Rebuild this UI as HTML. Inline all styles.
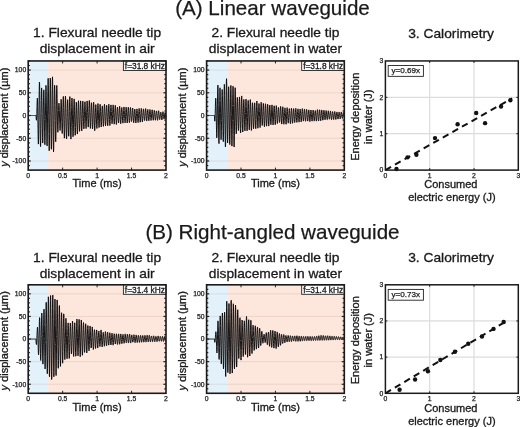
<!DOCTYPE html>
<html><head><meta charset="utf-8"><style>
html,body{margin:0;padding:0;background:#fff;}
svg{display:block;}
text{font-family:"Liberation Sans",Arial,sans-serif;fill:#1a1a1a;}
.tt{font-size:20.6px;stroke:#1a1a1a;stroke-width:0.25px;}
.st{font-size:13px;stroke:#1a1a1a;stroke-width:0.3px;}
.al{font-size:11px;stroke:#1a1a1a;stroke-width:0.32px;}
.tk{font-size:6.8px;stroke:#1a1a1a;stroke-width:0.25px;}
.fb{font-size:8.35px;stroke:#1a1a1a;stroke-width:0.3px;}
.fb2{font-size:8.1px;stroke:#1a1a1a;stroke-width:0.25px;}
</style></head><body>
<svg width="520" height="427" viewBox="0 0 520 427">
<rect width="520" height="427" fill="#fff"/>
<text x="272.5" y="14.6" class="tt" text-anchor="middle">(A) Linear waveguide</text>
<text transform="translate(97.1,37) scale(1.0615,1)" class="st" text-anchor="middle">1. Flexural needle tip</text>
<text transform="translate(97.1,53.3) scale(1.0615,1)" class="st" text-anchor="middle">displacement in air</text>
<text transform="translate(275.45,37) scale(1.0615,1)" class="st" text-anchor="middle">2. Flexural needle tip</text>
<text transform="translate(275.45,53.3) scale(1.0615,1)" class="st" text-anchor="middle">displacement in water</text>
<text transform="translate(451.05,38.1) scale(1.0615,1)" class="st" text-anchor="middle">3. Calorimetry</text>
<rect x="28.2" y="60.95" width="19.98" height="109.15" fill="#e2f1fa"/>
<rect x="48.18" y="60.95" width="117.82" height="109.15" fill="#fde6dc"/>
<line x1="28.2" y1="70.05" x2="166" y2="70.05" stroke="#6a5050" stroke-opacity="0.11" stroke-width="1"/>
<line x1="28.2" y1="92.79" x2="166" y2="92.79" stroke="#6a5050" stroke-opacity="0.11" stroke-width="1"/>
<line x1="28.2" y1="138.26" x2="166" y2="138.26" stroke="#6a5050" stroke-opacity="0.11" stroke-width="1"/>
<line x1="28.2" y1="161" x2="166" y2="161" stroke="#6a5050" stroke-opacity="0.11" stroke-width="1"/>
<polyline points="28.20,115.53 28.37,115.53 28.54,115.53 28.72,115.53 28.89,115.53 29.06,115.53 29.23,115.53 29.41,115.53 29.58,115.53 29.75,115.53 29.92,115.53 30.09,115.53 30.27,115.53 30.44,115.53 30.61,115.53 30.78,115.53 30.96,115.53 31.13,115.53 31.30,115.53 31.47,115.53 31.64,115.53 31.82,115.53 31.99,115.53 32.16,115.53 32.33,115.53 32.51,115.53 32.68,115.53 32.85,115.53 33.02,115.53 33.20,115.53 33.37,115.53 33.54,115.53 33.71,115.53 33.88,115.53 34.06,115.53 34.23,115.53 34.40,115.53 34.57,115.53 34.75,115.53 34.92,115.53 35.09,115.53 35.26,115.53 35.43,115.53 35.61,115.53 35.78,115.53 35.95,115.53 36.12,117.14 36.30,119.46 36.47,120.26 36.64,118.34 36.81,113.70 36.98,107.17 37.16,101.06 37.33,98.20 37.50,99.86 37.67,106.52 37.85,117.20 38.02,129.58 38.19,139.64 38.36,144.08 38.53,141.93 38.71,133.17 38.88,119.50 39.05,104.08 39.22,90.52 39.40,82.17 39.57,82.99 39.74,91.36 39.91,105.25 40.09,121.42 40.26,136.03 40.43,145.07 40.60,146.58 40.77,140.48 40.95,128.39 41.12,113.54 41.29,100.39 41.46,91.15 41.64,87.90 41.81,91.37 41.98,100.61 42.15,113.28 42.32,126.81 42.50,137.67 42.67,143.06 42.84,141.74 43.01,134.12 43.19,122.14 43.36,108.98 43.53,97.59 43.70,90.61 43.87,89.83 44.05,95.45 44.22,106.11 44.39,119.42 44.56,132.52 44.74,141.76 44.91,144.72 45.08,140.59 45.25,130.30 45.42,116.30 45.60,102.15 45.77,90.99 45.94,85.38 46.11,87.11 46.29,95.93 46.46,109.80 46.63,125.08 46.80,138.17 46.98,145.83 47.15,145.87 47.32,137.99 47.49,123.84 47.66,106.97 47.84,91.60 48.01,81.15 48.18,78.31 48.35,84.26 48.53,97.89 48.70,115.41 48.87,133.25 49.04,146.01 49.21,150.79 49.39,146.56 49.56,134.44 49.73,117.46 49.90,99.50 50.08,85.18 50.25,78.04 50.42,79.78 50.59,89.79 50.76,105.65 50.94,123.35 51.11,138.68 51.28,148.12 51.45,149.28 51.63,141.85 51.80,127.63 51.97,109.91 52.14,92.68 52.32,80.68 52.49,76.85 52.66,82.17 52.83,95.41 53.00,113.38 53.18,131.65 53.35,145.65 53.52,151.99 53.69,149.10 53.87,137.64 54.04,120.39 54.21,104.39 54.38,92.18 54.55,85.23 54.73,85.74 54.90,93.24 55.07,105.65 55.24,120.22 55.42,133.12 55.59,140.84 55.76,141.76 55.93,135.96 56.10,125.15 56.28,112.01 56.45,98.11 56.62,88.60 56.79,85.43 56.97,89.18 57.14,98.51 57.31,110.21 57.48,121.15 57.65,129.01 57.83,132.28 58.00,130.74 58.17,125.40 58.34,118.10 58.52,110.79 58.69,105.35 58.86,103.11 59.03,103.81 59.20,105.94 59.38,110.68 59.55,117.02 59.72,123.49 59.89,128.44 60.07,130.52 60.24,129.04 60.41,124.15 60.58,116.92 60.76,109.08 60.93,102.62 61.10,99.28 61.27,100.12 61.44,105.09 61.62,113.09 61.79,121.63 61.96,128.83 62.13,133.19 62.31,133.52 62.48,129.57 62.65,122.18 62.82,112.89 62.99,103.99 63.17,97.98 63.34,96.45 63.51,99.83 63.68,107.32 63.86,117.15 64.03,127.35 64.20,134.98 64.37,138.16 64.54,136.11 64.72,129.28 64.89,119.34 65.06,108.80 65.23,100.43 65.41,96.20 65.58,97.15 65.75,103.05 65.92,112.46 66.09,123.09 66.27,132.35 66.44,138.07 66.61,138.96 66.78,134.91 66.96,127.02 67.13,117.40 67.30,108.55 67.47,102.06 67.65,99.66 67.82,101.98 67.99,108.48 68.16,117.58 68.33,126.22 68.51,132.97 68.68,136.22 68.85,135.09 69.02,129.78 69.20,121.55 69.37,111.46 69.54,102.28 69.71,96.87 69.88,96.57 70.06,101.46 70.23,110.34 70.40,121.01 70.57,130.83 70.75,137.40 70.92,139.10 71.09,135.47 71.26,127.38 71.43,116.84 71.61,107.60 71.78,100.78 71.95,98.01 72.12,99.94 72.30,106.08 72.47,114.89 72.64,124.56 72.81,132.52 72.98,136.74 73.16,136.23 73.33,131.18 73.50,122.87 73.67,113.20 73.85,104.62 74.02,99.43 74.19,98.86 74.36,102.96 74.54,110.63 74.71,119.84 74.88,127.90 75.05,133.47 75.22,135.31 75.40,133.10 75.57,127.53 75.74,120.09 75.91,111.93 76.09,105.39 76.26,102.17 76.43,103.00 76.60,107.63 76.77,114.87 76.95,122.99 77.12,129.95 77.29,133.96 77.46,134.03 77.64,130.12 77.81,123.19 77.98,114.94 78.15,107.36 78.32,102.23 78.50,100.75 78.67,103.21 78.84,108.95 79.01,116.50 79.19,123.66 79.36,129.08 79.53,131.36 79.70,129.95 79.88,125.22 80.05,118.34 80.22,110.70 80.39,104.33 80.56,100.89 80.74,101.20 80.91,105.13 81.08,111.71 81.25,119.30 81.43,126.03 81.60,130.28 81.77,131.02 81.94,128.10 82.11,122.25 82.29,114.92 82.46,107.90 82.63,102.88 82.80,101.08 82.98,102.89 83.15,107.83 83.32,114.68 83.49,121.26 83.66,126.36 83.84,128.83 84.01,128.10 84.18,124.36 84.35,118.54 84.53,111.77 84.70,105.71 84.87,102.06 85.04,101.71 85.21,104.74 85.39,110.39 85.56,117.18 85.73,123.26 85.90,127.40 86.08,128.60 86.25,126.53 86.42,121.71 86.59,115.30 86.77,108.48 86.94,103.28 87.11,100.95 87.28,102.07 87.45,106.34 87.63,112.71 87.80,119.14 87.97,124.30 88.14,127.14 88.32,126.96 88.49,123.79 88.66,118.40 88.83,111.81 89.00,105.47 89.18,101.36 89.35,100.47 89.52,103.00 89.69,108.32 89.87,115.11 90.04,121.65 90.21,126.50 90.38,128.40 90.55,126.90 90.73,122.40 90.90,116.01 91.07,109.88 91.24,105.08 91.42,102.69 91.59,103.32 91.76,106.83 91.93,112.39 92.10,118.93 92.28,124.85 92.45,128.47 92.62,128.93 92.79,126.15 92.97,120.81 93.14,114.20 93.31,107.85 93.48,103.48 93.66,102.19 93.83,104.31 94.00,109.34 94.17,116.07 94.34,122.96 94.52,128.26 94.69,130.72 94.86,129.73 95.03,125.57 95.21,119.28 95.38,112.84 95.55,107.56 95.72,104.63 95.89,104.72 96.07,107.76 96.24,112.97 96.41,119.01 96.58,124.38 96.76,127.82 96.93,128.50 97.10,126.29 97.27,121.74 97.44,115.93 97.62,109.73 97.79,105.24 97.96,103.52 98.13,104.94 98.31,109.09 98.48,114.94 98.65,120.76 98.82,125.32 98.99,127.59 99.17,127.03 99.34,123.82 99.51,118.75 99.68,112.92 99.86,107.74 100.03,104.61 100.20,104.25 100.37,106.69 100.55,111.29 100.72,116.89 100.89,122.16 101.06,125.83 101.23,126.99 101.41,125.38 101.58,121.38 101.75,115.97 101.92,111.22 102.10,107.60 102.27,105.92 102.44,106.59 102.61,109.43 102.78,113.75 102.96,118.99 103.13,123.66 103.30,126.31 103.47,126.30 103.65,123.63 103.82,118.97 103.99,113.44 104.16,108.40 104.33,105.07 104.51,104.26 104.68,106.15 104.85,110.28 105.02,115.61 105.20,120.65 105.37,124.37 105.54,125.86 105.71,124.75 105.88,121.33 106.06,116.42 106.23,111.40 106.40,107.37 106.57,105.25 106.75,105.56 106.92,108.21 107.09,112.55 107.26,117.71 107.44,122.44 107.61,125.37 107.78,125.78 107.95,123.58 108.12,119.30 108.30,113.99 108.47,108.95 108.64,105.40 108.81,104.20 108.99,105.64 109.16,109.35 109.33,114.42 109.50,119.60 109.67,123.62 109.85,125.51 110.02,124.81 110.19,121.68 110.36,116.90 110.54,111.77 110.71,107.49 110.88,105.01 111.05,104.93 111.22,107.26 111.40,111.41 111.57,116.23 111.74,120.35 111.91,123.09 112.09,123.78 112.26,122.28 112.43,118.96 112.60,114.62 112.77,109.84 112.95,106.30 113.12,104.86 113.29,105.85 113.46,109.02 113.64,113.59 113.81,118.33 113.98,122.15 114.15,124.17 114.33,123.91 114.50,121.45 114.67,117.40 114.84,112.66 115.01,108.37 115.19,105.69 115.36,105.28 115.53,107.22 115.70,111.01 115.88,115.74 116.05,120.23 116.22,123.40 116.39,124.49 116.56,123.25 116.74,120.00 116.91,115.55 117.08,111.58 117.25,108.55 117.43,107.11 117.60,107.60 117.77,109.89 117.94,113.41 118.11,117.39 118.29,120.82 118.46,122.82 118.63,122.91 118.80,121.09 118.98,117.81 119.15,113.74 119.32,109.69 119.49,106.99 119.66,106.28 119.84,107.72 120.01,110.94 120.18,115.16 120.35,119.32 120.53,122.43 120.70,123.74 120.87,122.94 121.04,120.25 121.22,116.35 121.39,112.38 121.56,109.20 121.73,107.51 121.90,107.69 122.08,109.70 122.25,113.03 122.42,116.94 122.59,120.51 122.77,122.78 122.94,123.18 123.11,121.62 123.28,118.48 123.45,114.53 123.63,110.69 123.80,107.93 123.97,106.93 124.14,107.92 124.32,110.64 124.49,114.43 124.66,118.35 124.83,121.44 125.00,122.95 125.18,122.53 125.35,120.27 125.52,116.72 125.69,112.75 125.87,109.31 126.04,107.27 126.21,107.10 126.38,108.87 126.55,112.12 126.73,116.08 126.90,119.76 127.07,122.28 127.24,123.01 127.42,121.78 127.59,118.89 127.76,115.05 127.93,111.29 128.10,108.45 128.28,107.22 128.45,107.90 128.62,110.32 128.79,113.88 128.97,117.69 129.14,120.83 129.31,122.55 129.48,122.46 129.66,120.58 129.83,117.37 130.00,113.58 130.17,110.11 130.34,107.88 130.52,107.45 130.69,108.91 130.86,111.90 131.03,115.61 131.21,118.57 131.38,120.71 131.55,121.52 131.72,120.80 131.89,118.75 132.07,115.87 132.24,112.34 132.41,109.45 132.58,108.02 132.76,108.38 132.93,110.45 133.10,113.72 133.27,117.42 133.44,120.65 133.62,122.59 133.79,122.79 133.96,121.20 134.13,118.23 134.31,114.71 134.48,111.72 134.65,109.67 134.82,109.06 135.00,110.04 135.17,112.37 135.34,115.47 135.51,119.03 135.68,121.77 135.86,122.99 136.03,122.39 136.20,120.14 136.37,116.80 136.55,113.33 136.72,110.51 136.89,108.93 137.06,108.97 137.23,110.61 137.41,113.45 137.58,116.86 137.75,120.08 137.92,122.17 138.10,122.61 138.27,121.30 138.44,118.57 138.61,115.09 138.78,111.78 138.96,109.37 139.13,108.43 139.30,109.19 139.47,111.44 139.65,114.64 139.82,118.07 139.99,120.82 140.16,122.22 140.33,121.92 140.51,120.00 140.68,116.93 140.85,113.46 141.02,110.44 141.20,108.59 141.37,108.37 141.54,109.80 141.71,112.54 141.89,115.91 142.06,119.08 142.23,121.27 142.40,121.95 142.57,120.96 142.75,118.54 142.92,115.28 143.09,112.25 143.26,109.93 143.44,108.86 143.61,109.30 143.78,111.13 143.95,113.89 144.12,116.81 144.30,119.19 144.47,120.53 144.64,120.51 144.81,119.14 144.99,116.77 145.16,113.83 145.33,110.91 145.50,109.01 145.67,108.58 145.85,109.71 146.02,112.11 146.19,115.18 146.36,118.11 146.54,120.25 146.71,121.08 146.88,120.43 147.05,118.45 147.22,115.65 147.40,112.82 147.57,110.57 147.74,109.42 147.91,109.63 148.09,111.14 148.26,113.57 148.43,116.41 148.60,118.98 148.78,120.55 148.95,120.75 149.12,119.55 149.29,117.24 149.46,114.42 149.64,111.83 149.81,110.03 149.98,109.45 150.15,110.22 150.33,112.14 150.50,114.73 150.67,117.43 150.84,119.51 151.01,120.47 151.19,120.08 151.36,118.46 151.53,116.01 151.70,113.35 151.88,111.13 152.05,109.87 152.22,109.87 152.39,111.11 152.56,113.30 152.74,115.90 152.91,118.27 153.08,119.85 153.25,120.25 153.43,119.39 153.60,117.49 153.77,115.03 153.94,112.74 154.11,111.05 154.29,110.37 154.46,110.86 154.63,112.40 154.80,114.62 154.98,117.10 155.15,119.16 155.32,120.25 155.49,120.11 155.67,118.80 155.84,116.63 156.01,114.27 156.18,112.30 156.35,111.08 156.53,110.90 156.70,111.81 156.87,113.58 157.04,115.82 157.22,118.14 157.39,119.78 157.56,120.35 157.73,119.71 157.90,118.05 158.08,115.76 158.25,113.42 158.42,111.59 158.59,110.73 158.77,111.04 158.94,112.45 159.11,114.60 159.28,116.78 159.45,118.52 159.63,119.54 159.80,119.60 159.97,118.68 160.14,117.02 160.32,115.08 160.49,113.44 160.66,112.35 160.83,112.08 161.00,112.68 161.18,113.99 161.35,115.68 161.52,117.77 161.69,119.31 161.87,119.94 162.04,119.51 162.21,118.16 162.38,116.22 162.56,114.18 162.73,112.53 162.90,111.67 163.07,111.79 163.24,112.84 163.42,114.56 163.59,116.42 163.76,117.96 163.93,118.91 164.11,119.05 164.28,118.37 164.45,117.04 164.62,115.42 164.79,113.91 164.97,112.86 165.14,112.51 165.31,112.93 165.48,114.00 165.66,115.44 165.83,117.08 166.00,118.36" fill="none" stroke="#0c0a0a" stroke-width="0.95" stroke-linejoin="round"/>
<line x1="28.2" y1="165.55" x2="29.9" y2="165.55" stroke="#222" stroke-width="1.2"/>
<line x1="166" y1="165.55" x2="164.3" y2="165.55" stroke="#222" stroke-width="1.2"/>
<line x1="28.2" y1="161" x2="30.8" y2="161" stroke="#222" stroke-width="1.2"/>
<line x1="166" y1="161" x2="163.4" y2="161" stroke="#222" stroke-width="1.2"/>
<line x1="28.2" y1="156.46" x2="29.9" y2="156.46" stroke="#222" stroke-width="1.2"/>
<line x1="166" y1="156.46" x2="164.3" y2="156.46" stroke="#222" stroke-width="1.2"/>
<line x1="28.2" y1="151.91" x2="29.9" y2="151.91" stroke="#222" stroke-width="1.2"/>
<line x1="166" y1="151.91" x2="164.3" y2="151.91" stroke="#222" stroke-width="1.2"/>
<line x1="28.2" y1="147.36" x2="29.9" y2="147.36" stroke="#222" stroke-width="1.2"/>
<line x1="166" y1="147.36" x2="164.3" y2="147.36" stroke="#222" stroke-width="1.2"/>
<line x1="28.2" y1="142.81" x2="29.9" y2="142.81" stroke="#222" stroke-width="1.2"/>
<line x1="166" y1="142.81" x2="164.3" y2="142.81" stroke="#222" stroke-width="1.2"/>
<line x1="28.2" y1="138.26" x2="30.8" y2="138.26" stroke="#222" stroke-width="1.2"/>
<line x1="166" y1="138.26" x2="163.4" y2="138.26" stroke="#222" stroke-width="1.2"/>
<line x1="28.2" y1="133.72" x2="29.9" y2="133.72" stroke="#222" stroke-width="1.2"/>
<line x1="166" y1="133.72" x2="164.3" y2="133.72" stroke="#222" stroke-width="1.2"/>
<line x1="28.2" y1="129.17" x2="29.9" y2="129.17" stroke="#222" stroke-width="1.2"/>
<line x1="166" y1="129.17" x2="164.3" y2="129.17" stroke="#222" stroke-width="1.2"/>
<line x1="28.2" y1="124.62" x2="29.9" y2="124.62" stroke="#222" stroke-width="1.2"/>
<line x1="166" y1="124.62" x2="164.3" y2="124.62" stroke="#222" stroke-width="1.2"/>
<line x1="28.2" y1="120.07" x2="29.9" y2="120.07" stroke="#222" stroke-width="1.2"/>
<line x1="166" y1="120.07" x2="164.3" y2="120.07" stroke="#222" stroke-width="1.2"/>
<line x1="28.2" y1="115.53" x2="30.8" y2="115.53" stroke="#222" stroke-width="1.2"/>
<line x1="166" y1="115.53" x2="163.4" y2="115.53" stroke="#222" stroke-width="1.2"/>
<line x1="28.2" y1="110.98" x2="29.9" y2="110.98" stroke="#222" stroke-width="1.2"/>
<line x1="166" y1="110.98" x2="164.3" y2="110.98" stroke="#222" stroke-width="1.2"/>
<line x1="28.2" y1="106.43" x2="29.9" y2="106.43" stroke="#222" stroke-width="1.2"/>
<line x1="166" y1="106.43" x2="164.3" y2="106.43" stroke="#222" stroke-width="1.2"/>
<line x1="28.2" y1="101.88" x2="29.9" y2="101.88" stroke="#222" stroke-width="1.2"/>
<line x1="166" y1="101.88" x2="164.3" y2="101.88" stroke="#222" stroke-width="1.2"/>
<line x1="28.2" y1="97.33" x2="29.9" y2="97.33" stroke="#222" stroke-width="1.2"/>
<line x1="166" y1="97.33" x2="164.3" y2="97.33" stroke="#222" stroke-width="1.2"/>
<line x1="28.2" y1="92.79" x2="30.8" y2="92.79" stroke="#222" stroke-width="1.2"/>
<line x1="166" y1="92.79" x2="163.4" y2="92.79" stroke="#222" stroke-width="1.2"/>
<line x1="28.2" y1="88.24" x2="29.9" y2="88.24" stroke="#222" stroke-width="1.2"/>
<line x1="166" y1="88.24" x2="164.3" y2="88.24" stroke="#222" stroke-width="1.2"/>
<line x1="28.2" y1="83.69" x2="29.9" y2="83.69" stroke="#222" stroke-width="1.2"/>
<line x1="166" y1="83.69" x2="164.3" y2="83.69" stroke="#222" stroke-width="1.2"/>
<line x1="28.2" y1="79.14" x2="29.9" y2="79.14" stroke="#222" stroke-width="1.2"/>
<line x1="166" y1="79.14" x2="164.3" y2="79.14" stroke="#222" stroke-width="1.2"/>
<line x1="28.2" y1="74.59" x2="29.9" y2="74.59" stroke="#222" stroke-width="1.2"/>
<line x1="166" y1="74.59" x2="164.3" y2="74.59" stroke="#222" stroke-width="1.2"/>
<line x1="28.2" y1="70.05" x2="30.8" y2="70.05" stroke="#222" stroke-width="1.2"/>
<line x1="166" y1="70.05" x2="163.4" y2="70.05" stroke="#222" stroke-width="1.2"/>
<line x1="28.2" y1="65.5" x2="29.9" y2="65.5" stroke="#222" stroke-width="1.2"/>
<line x1="166" y1="65.5" x2="164.3" y2="65.5" stroke="#222" stroke-width="1.2"/>
<line x1="28.2" y1="60.95" x2="29.9" y2="60.95" stroke="#222" stroke-width="1.2"/>
<line x1="166" y1="60.95" x2="164.3" y2="60.95" stroke="#222" stroke-width="1.2"/>
<line x1="62.65" y1="170.1" x2="62.65" y2="167.6" stroke="#222" stroke-width="1"/>
<line x1="62.65" y1="60.95" x2="62.65" y2="63.45" stroke="#222" stroke-width="1"/>
<line x1="97.1" y1="170.1" x2="97.1" y2="167.6" stroke="#222" stroke-width="1"/>
<line x1="97.1" y1="60.95" x2="97.1" y2="63.45" stroke="#222" stroke-width="1"/>
<line x1="131.55" y1="170.1" x2="131.55" y2="167.6" stroke="#222" stroke-width="1"/>
<line x1="131.55" y1="60.95" x2="131.55" y2="63.45" stroke="#222" stroke-width="1"/>
<rect x="123.4" y="60.95" width="42.6" height="9.5" fill="#fff" stroke="#222" stroke-width="0.9"/>
<text x="144.9" y="68.95" class="fb" text-anchor="middle">f=31.8 kHz</text>
<rect x="28.2" y="60.95" width="137.8" height="109.15" fill="none" stroke="#1a1a1a" stroke-width="1.6"/>
<text x="26.2" y="72.35" class="tk" text-anchor="end">100</text>
<text x="26.2" y="95.09" class="tk" text-anchor="end">50</text>
<text x="26.2" y="117.83" class="tk" text-anchor="end">0</text>
<text x="26.2" y="140.56" class="tk" text-anchor="end">-50</text>
<text x="26.2" y="163.3" class="tk" text-anchor="end">-100</text>
<text x="28.2" y="178.4" class="tk" text-anchor="middle">0</text>
<text x="62.65" y="178.4" class="tk" text-anchor="middle">0.5</text>
<text x="97.1" y="178.4" class="tk" text-anchor="middle">1</text>
<text x="131.55" y="178.4" class="tk" text-anchor="middle">1.5</text>
<text x="166" y="178.4" class="tk" text-anchor="middle">2</text>
<text transform="translate(7.7,117.23) rotate(-90)" class="al" text-anchor="middle"><tspan font-style="italic">y</tspan> displacement (µm)</text>
<text x="97.1" y="187.1" class="al" text-anchor="middle">Time (ms)</text>
<rect x="206.6" y="60.95" width="21.48" height="109.15" fill="#e2f1fa"/>
<rect x="228.08" y="60.95" width="116.22" height="109.15" fill="#fde6dc"/>
<line x1="206.6" y1="70.05" x2="344.3" y2="70.05" stroke="#6a5050" stroke-opacity="0.11" stroke-width="1"/>
<line x1="206.6" y1="92.79" x2="344.3" y2="92.79" stroke="#6a5050" stroke-opacity="0.11" stroke-width="1"/>
<line x1="206.6" y1="138.26" x2="344.3" y2="138.26" stroke="#6a5050" stroke-opacity="0.11" stroke-width="1"/>
<line x1="206.6" y1="161" x2="344.3" y2="161" stroke="#6a5050" stroke-opacity="0.11" stroke-width="1"/>
<polyline points="206.60,115.53 206.77,115.53 206.94,115.53 207.12,115.53 207.29,115.53 207.46,115.53 207.63,115.53 207.80,115.53 207.98,115.53 208.15,115.53 208.32,115.53 208.49,115.53 208.67,115.53 208.84,115.53 209.01,115.53 209.18,115.53 209.35,115.53 209.53,115.53 209.70,115.53 209.87,115.53 210.04,115.53 210.21,115.53 210.39,115.53 210.56,115.53 210.73,115.53 210.90,115.53 211.08,115.53 211.25,115.53 211.42,115.53 211.59,115.53 211.76,115.53 211.94,115.53 212.11,115.53 212.28,115.53 212.45,115.53 212.62,115.53 212.80,115.53 212.97,115.53 213.14,115.53 213.31,115.53 213.48,115.53 213.66,115.53 213.83,115.53 214.00,115.53 214.17,115.53 214.35,115.53 214.52,115.53 214.69,120.97 214.86,121.20 215.03,118.71 215.21,113.52 215.38,106.75 215.55,100.72 215.72,98.23 215.89,99.97 216.07,106.03 216.24,115.32 216.41,125.09 216.58,133.39 216.76,137.85 216.93,136.41 217.10,129.32 217.27,118.16 217.44,104.88 217.62,92.99 217.79,85.72 217.96,85.09 218.13,92.43 218.30,105.26 218.48,120.00 218.65,133.03 218.82,141.58 218.99,143.61 219.17,138.08 219.34,127.05 219.51,113.31 219.68,100.26 219.85,91.03 220.03,87.80 220.20,91.24 220.37,100.35 220.54,112.90 220.71,125.36 220.89,135.03 221.06,139.69 221.23,138.31 221.40,131.45 221.57,120.62 221.75,107.93 221.92,96.61 222.09,89.91 222.26,89.46 222.44,95.36 222.61,105.90 222.78,118.72 222.95,130.72 223.12,139.09 223.30,141.64 223.47,137.58 223.64,128.13 223.81,115.00 223.98,100.92 224.16,89.72 224.33,84.35 224.50,86.40 224.67,95.66 224.85,110.11 225.02,125.64 225.19,138.81 225.36,146.60 225.53,146.92 225.71,138.90 225.88,124.74 226.05,107.76 226.22,91.80 226.39,81.28 226.57,78.66 226.74,84.49 226.91,97.32 227.08,114.28 227.25,129.03 227.43,139.36 227.60,142.99 227.77,139.38 227.94,129.81 228.12,116.96 228.29,102.83 228.46,91.78 228.63,86.72 228.80,88.82 228.98,97.46 229.15,109.84 229.32,123.85 229.49,136.17 229.66,143.71 229.84,144.56 230.01,138.42 230.18,126.76 230.35,112.27 230.53,98.45 230.70,88.69 230.87,85.43 231.04,89.53 231.21,100.05 231.39,114.46 231.56,129.23 231.73,140.73 231.90,146.06 232.07,143.84 232.25,134.49 232.42,120.22 232.59,105.45 232.76,93.34 232.94,86.34 233.11,86.20 233.28,93.00 233.45,105.57 233.62,120.79 233.80,135.33 233.97,144.79 234.14,147.02 234.31,141.65 234.48,130.18 234.66,115.09 234.83,100.94 235.00,91.11 235.17,87.69 235.34,91.11 235.52,100.13 235.69,112.19 235.86,122.81 236.03,130.48 236.21,133.84 236.38,132.28 236.55,126.41 236.72,117.86 236.89,109.02 237.07,101.76 237.24,97.55 237.41,97.38 237.58,101.21 237.75,107.87 237.93,115.96 238.10,123.63 238.27,128.91 238.44,130.56 238.62,128.25 238.79,122.62 238.96,115.15 239.13,106.56 239.30,99.91 239.48,96.94 239.65,98.37 239.82,103.86 239.99,111.96 240.16,120.80 240.34,128.36 240.51,132.76 240.68,132.88 240.85,128.64 241.03,121.00 241.20,111.80 241.37,103.20 241.54,97.46 241.71,95.93 241.89,98.93 242.06,105.69 242.23,114.69 242.40,123.39 242.57,129.64 242.75,132.02 242.92,130.11 243.09,124.51 243.26,116.72 243.43,108.76 243.61,102.50 243.78,99.44 243.95,100.28 244.12,104.76 244.30,111.56 244.47,119.22 244.64,126.02 244.81,130.27 244.98,130.89 245.16,127.70 245.33,121.41 245.50,113.58 245.67,106.24 245.84,100.98 246.02,99.09 246.19,101.04 246.36,106.37 246.53,113.79 246.71,121.70 246.88,127.91 247.05,130.86 247.22,129.85 247.39,125.11 247.57,117.81 247.74,110.24 247.91,104.08 248.08,100.49 248.25,100.35 248.43,103.68 248.60,109.66 248.77,116.96 248.94,123.98 249.11,128.64 249.29,129.84 249.46,127.34 249.63,121.81 249.80,114.62 249.98,107.22 250.15,101.77 250.32,99.59 250.49,101.19 250.66,106.19 250.84,113.36 251.01,120.96 251.18,127.17 251.35,130.50 251.52,130.19 251.70,126.35 251.87,119.97 252.04,112.90 252.21,106.94 252.39,103.23 252.56,102.71 252.73,105.44 252.90,110.72 253.07,117.19 253.25,123.13 253.42,127.32 253.59,128.73 253.76,127.04 253.93,122.66 254.11,116.68 254.28,110.30 254.45,105.27 254.62,102.83 254.80,103.56 254.97,107.23 255.14,112.94 255.31,119.50 255.48,125.23 255.66,128.58 255.83,128.72 256.00,125.56 256.17,119.83 256.34,112.96 256.52,106.68 256.69,102.36 256.86,101.03 257.03,103.01 257.20,107.81 257.38,114.36 257.55,121.08 257.72,126.11 257.89,128.23 258.07,126.98 258.24,122.68 258.41,116.41 258.58,110.52 258.75,105.97 258.93,103.53 259.10,103.80 259.27,106.68 259.44,111.45 259.61,117.40 259.79,123.22 259.96,126.91 260.13,127.57 260.30,125.10 260.48,120.12 260.65,113.87 260.82,107.90 260.99,103.66 261.16,102.17 261.34,103.76 261.51,108.03 261.68,113.91 261.85,119.31 262.02,123.46 262.20,125.49 262.37,124.92 262.54,121.94 262.71,117.30 262.88,111.70 263.06,106.60 263.23,103.58 263.40,103.36 263.57,105.98 263.75,110.79 263.92,116.61 264.09,122.02 264.26,125.69 264.43,126.76 264.61,124.96 264.78,120.76 264.95,115.20 265.12,109.69 265.29,105.52 265.47,103.71 265.64,104.69 265.81,108.19 265.98,113.36 266.16,118.96 266.33,123.60 266.50,126.15 266.67,126.00 266.84,123.21 267.02,118.47 267.19,112.95 267.36,108.01 267.53,104.85 267.70,104.22 267.88,106.27 268.05,110.47 268.22,115.80 268.39,120.96 268.56,124.68 268.74,126.07 268.91,124.81 269.08,121.21 269.25,116.17 269.43,111.08 269.60,107.05 269.77,105.04 269.94,105.51 270.11,108.34 270.29,112.84 270.46,117.77 270.63,121.96 270.80,124.48 270.97,124.72 271.15,122.65 271.32,118.77 271.49,113.95 271.66,109.17 271.84,105.88 272.01,104.89 272.18,106.42 272.35,110.08 272.52,114.97 272.70,119.74 272.87,123.38 273.04,125.00 273.21,124.23 273.38,121.27 273.56,116.84 273.73,112.04 273.90,108.03 274.07,105.80 274.25,105.87 274.42,108.22 274.59,112.25 274.76,117.00 274.93,121.29 275.11,124.08 275.28,124.69 275.45,122.99 275.62,119.40 275.79,114.80 275.97,110.22 276.14,106.89 276.31,105.61 276.48,106.67 276.65,109.80 276.83,114.24 277.00,118.51 277.17,121.85 277.34,123.56 277.52,123.22 277.69,120.93 277.86,117.26 278.03,113.20 278.20,109.73 278.38,107.63 278.55,107.38 278.72,109.04 278.89,112.20 279.06,116.01 279.24,119.37 279.41,121.72 279.58,122.48 279.75,121.48 279.93,118.97 280.10,115.58 280.27,111.28 280.44,107.92 280.61,106.38 280.79,107.04 280.96,109.73 281.13,113.79 281.30,118.21 281.47,121.92 281.65,124.03 281.82,124.04 281.99,121.97 282.16,118.31 282.34,113.97 282.51,109.99 282.68,107.37 282.85,106.75 283.02,108.29 283.20,111.59 283.37,115.85 283.54,119.98 283.71,123.02 283.88,124.25 284.06,123.37 284.23,120.62 284.40,116.66 284.57,112.67 284.74,109.49 284.92,107.84 285.09,108.11 285.26,110.25 285.43,113.72 285.61,117.83 285.78,121.59 285.95,123.93 286.12,124.27 286.29,122.56 286.47,119.21 286.64,115.06 286.81,111.20 286.98,108.49 287.15,107.60 287.33,108.73 287.50,111.59 287.67,115.48 287.84,119.10 288.02,121.87 288.19,123.16 288.36,122.67 288.53,120.53 288.70,117.27 288.88,113.62 289.05,110.50 289.22,108.71 289.39,108.68 289.56,110.40 289.74,113.44 289.91,117.16 290.08,120.77 290.25,123.16 290.42,123.76 290.60,122.43 290.77,119.52 290.94,115.73 291.11,112.01 291.29,109.26 291.46,108.13 291.63,108.90 291.80,111.36 291.97,114.89 292.15,118.64 292.32,121.69 292.49,123.29 292.66,123.08 292.83,121.09 293.01,117.83 293.18,114.15 293.35,110.96 293.52,108.95 293.70,108.61 293.87,110.02 294.04,112.81 294.21,116.28 294.38,119.49 294.56,121.77 294.73,122.55 294.90,121.64 295.07,119.28 295.24,116.03 295.42,112.48 295.59,109.67 295.76,108.31 295.93,108.73 296.11,110.81 296.28,114.04 296.45,117.57 296.62,120.55 296.79,122.29 296.97,122.36 297.14,120.75 297.31,117.86 297.48,114.45 297.65,111.41 297.83,109.37 298.00,108.81 298.17,109.85 298.34,112.24 298.51,115.38 298.69,118.67 298.86,121.13 299.03,122.17 299.20,121.52 299.38,119.36 299.55,116.22 299.72,113.00 299.89,110.41 300.06,109.00 300.24,109.12 300.41,110.73 300.58,113.43 300.75,116.67 300.92,119.69 301.10,121.60 301.27,121.93 301.44,120.62 301.61,118.00 301.79,114.73 301.96,111.60 302.13,109.37 302.30,108.58 302.47,109.41 302.65,111.64 302.82,114.72 302.99,117.67 303.16,119.98 303.33,121.12 303.51,120.81 303.68,119.16 303.85,116.56 304.02,113.51 304.19,110.80 304.37,109.20 304.54,109.10 304.71,110.52 304.88,113.11 305.06,116.18 305.23,118.89 305.40,120.73 305.57,121.27 305.74,120.38 305.92,118.28 306.09,115.51 306.26,112.55 306.43,110.31 306.60,109.34 306.78,109.89 306.95,111.80 307.12,114.62 307.29,117.49 307.47,119.80 307.64,121.07 307.81,121.00 307.98,119.62 308.15,117.27 308.33,114.47 308.50,111.88 308.67,110.21 308.84,109.86 309.01,110.93 309.19,113.16 309.36,116.01 309.53,118.83 309.70,120.87 309.88,121.64 310.05,120.95 310.22,118.97 310.39,116.18 310.56,113.35 310.74,111.11 310.91,109.99 311.08,110.24 311.25,111.83 311.42,114.35 311.60,117.15 311.77,119.56 311.94,121.02 312.11,121.17 312.28,119.97 312.46,117.72 312.63,114.96 312.80,112.37 312.97,110.59 313.15,110.04 313.32,110.87 313.49,112.86 313.66,115.55 313.83,118.22 314.01,120.25 314.18,121.15 314.35,120.71 314.52,119.02 314.69,116.51 314.87,113.91 315.04,111.78 315.21,110.59 315.38,110.62 315.56,111.86 315.73,113.99 315.90,116.61 316.07,119.14 316.24,120.78 316.42,121.13 316.59,120.10 316.76,117.95 316.93,115.20 317.10,112.43 317.28,110.40 317.45,109.61 317.62,110.25 317.79,112.14 317.96,114.83 318.14,117.64 318.31,119.89 318.48,121.03 318.65,120.79 318.83,119.22 319.00,116.71 319.17,113.88 319.34,111.42 319.51,109.93 319.69,109.77 319.86,110.96 320.03,113.20 320.20,115.94 320.37,118.51 320.55,120.28 320.72,120.83 320.89,120.04 321.06,118.10 321.24,115.50 321.41,112.87 321.58,110.86 321.75,109.95 321.92,110.36 322.10,111.96 322.27,114.37 322.44,116.91 322.61,118.98 322.78,120.15 322.96,120.13 323.13,118.94 323.30,116.87 323.47,114.40 323.64,112.08 323.82,110.57 323.99,110.23 324.16,111.12 324.33,113.03 324.51,115.46 324.68,117.61 324.85,119.19 325.02,119.82 325.19,119.34 325.37,117.89 325.54,115.83 325.71,113.47 325.88,111.53 326.05,110.53 326.23,110.71 326.40,112.02 326.57,114.13 326.74,116.42 326.92,118.33 327.09,119.50 327.26,119.65 327.43,118.77 327.60,117.07 327.78,114.92 327.95,112.74 328.12,111.22 328.29,110.73 328.46,111.38 328.64,113.00 328.81,115.21 328.98,117.09 329.15,118.52 329.33,119.19 329.50,118.94 329.67,117.83 329.84,116.15 330.01,114.07 330.19,112.19 330.36,111.12 330.53,111.11 330.70,112.16 330.87,114.00 331.05,116.17 331.22,118.11 331.39,119.39 331.56,119.71 331.73,118.99 331.91,117.42 332.08,115.39 332.25,113.53 332.42,112.15 332.60,111.59 332.77,111.98 332.94,113.22 333.11,115.01 333.28,117.04 333.46,118.73 333.63,119.62 333.80,119.49 333.97,118.40 334.14,116.60 334.32,114.55 334.49,112.75 334.66,111.62 334.83,111.46 335.01,112.27 335.18,113.88 335.35,115.86 335.52,117.72 335.69,119.03 335.87,119.47 336.04,118.94 336.21,117.58 336.38,115.73 336.55,113.95 336.73,112.57 336.90,111.93 337.07,112.15 337.24,113.19 337.42,114.77 337.59,116.58 337.76,118.14 337.93,119.04 338.10,119.07 338.28,118.22 338.45,116.71 338.62,114.92 338.79,113.30 338.96,112.22 339.14,111.94 339.31,112.52 339.48,113.80 339.65,115.48 339.82,117.18 340.00,118.44 340.17,118.96 340.34,118.62 340.51,117.51 340.69,115.91 340.86,114.21 341.03,112.83 341.20,112.10 341.37,112.18 341.55,113.05 341.72,114.49 341.89,116.09 342.06,117.44 342.23,118.29 342.41,118.43 342.58,117.83 342.75,116.65 342.92,115.18 343.10,113.77 343.27,112.77 343.44,112.43 343.61,112.81 343.78,113.81 343.96,115.18 344.13,116.60 344.30,117.72" fill="none" stroke="#0c0a0a" stroke-width="0.95" stroke-linejoin="round"/>
<line x1="206.6" y1="165.55" x2="208.3" y2="165.55" stroke="#222" stroke-width="1.2"/>
<line x1="344.3" y1="165.55" x2="342.6" y2="165.55" stroke="#222" stroke-width="1.2"/>
<line x1="206.6" y1="161" x2="209.2" y2="161" stroke="#222" stroke-width="1.2"/>
<line x1="344.3" y1="161" x2="341.7" y2="161" stroke="#222" stroke-width="1.2"/>
<line x1="206.6" y1="156.46" x2="208.3" y2="156.46" stroke="#222" stroke-width="1.2"/>
<line x1="344.3" y1="156.46" x2="342.6" y2="156.46" stroke="#222" stroke-width="1.2"/>
<line x1="206.6" y1="151.91" x2="208.3" y2="151.91" stroke="#222" stroke-width="1.2"/>
<line x1="344.3" y1="151.91" x2="342.6" y2="151.91" stroke="#222" stroke-width="1.2"/>
<line x1="206.6" y1="147.36" x2="208.3" y2="147.36" stroke="#222" stroke-width="1.2"/>
<line x1="344.3" y1="147.36" x2="342.6" y2="147.36" stroke="#222" stroke-width="1.2"/>
<line x1="206.6" y1="142.81" x2="208.3" y2="142.81" stroke="#222" stroke-width="1.2"/>
<line x1="344.3" y1="142.81" x2="342.6" y2="142.81" stroke="#222" stroke-width="1.2"/>
<line x1="206.6" y1="138.26" x2="209.2" y2="138.26" stroke="#222" stroke-width="1.2"/>
<line x1="344.3" y1="138.26" x2="341.7" y2="138.26" stroke="#222" stroke-width="1.2"/>
<line x1="206.6" y1="133.72" x2="208.3" y2="133.72" stroke="#222" stroke-width="1.2"/>
<line x1="344.3" y1="133.72" x2="342.6" y2="133.72" stroke="#222" stroke-width="1.2"/>
<line x1="206.6" y1="129.17" x2="208.3" y2="129.17" stroke="#222" stroke-width="1.2"/>
<line x1="344.3" y1="129.17" x2="342.6" y2="129.17" stroke="#222" stroke-width="1.2"/>
<line x1="206.6" y1="124.62" x2="208.3" y2="124.62" stroke="#222" stroke-width="1.2"/>
<line x1="344.3" y1="124.62" x2="342.6" y2="124.62" stroke="#222" stroke-width="1.2"/>
<line x1="206.6" y1="120.07" x2="208.3" y2="120.07" stroke="#222" stroke-width="1.2"/>
<line x1="344.3" y1="120.07" x2="342.6" y2="120.07" stroke="#222" stroke-width="1.2"/>
<line x1="206.6" y1="115.53" x2="209.2" y2="115.53" stroke="#222" stroke-width="1.2"/>
<line x1="344.3" y1="115.53" x2="341.7" y2="115.53" stroke="#222" stroke-width="1.2"/>
<line x1="206.6" y1="110.98" x2="208.3" y2="110.98" stroke="#222" stroke-width="1.2"/>
<line x1="344.3" y1="110.98" x2="342.6" y2="110.98" stroke="#222" stroke-width="1.2"/>
<line x1="206.6" y1="106.43" x2="208.3" y2="106.43" stroke="#222" stroke-width="1.2"/>
<line x1="344.3" y1="106.43" x2="342.6" y2="106.43" stroke="#222" stroke-width="1.2"/>
<line x1="206.6" y1="101.88" x2="208.3" y2="101.88" stroke="#222" stroke-width="1.2"/>
<line x1="344.3" y1="101.88" x2="342.6" y2="101.88" stroke="#222" stroke-width="1.2"/>
<line x1="206.6" y1="97.33" x2="208.3" y2="97.33" stroke="#222" stroke-width="1.2"/>
<line x1="344.3" y1="97.33" x2="342.6" y2="97.33" stroke="#222" stroke-width="1.2"/>
<line x1="206.6" y1="92.79" x2="209.2" y2="92.79" stroke="#222" stroke-width="1.2"/>
<line x1="344.3" y1="92.79" x2="341.7" y2="92.79" stroke="#222" stroke-width="1.2"/>
<line x1="206.6" y1="88.24" x2="208.3" y2="88.24" stroke="#222" stroke-width="1.2"/>
<line x1="344.3" y1="88.24" x2="342.6" y2="88.24" stroke="#222" stroke-width="1.2"/>
<line x1="206.6" y1="83.69" x2="208.3" y2="83.69" stroke="#222" stroke-width="1.2"/>
<line x1="344.3" y1="83.69" x2="342.6" y2="83.69" stroke="#222" stroke-width="1.2"/>
<line x1="206.6" y1="79.14" x2="208.3" y2="79.14" stroke="#222" stroke-width="1.2"/>
<line x1="344.3" y1="79.14" x2="342.6" y2="79.14" stroke="#222" stroke-width="1.2"/>
<line x1="206.6" y1="74.59" x2="208.3" y2="74.59" stroke="#222" stroke-width="1.2"/>
<line x1="344.3" y1="74.59" x2="342.6" y2="74.59" stroke="#222" stroke-width="1.2"/>
<line x1="206.6" y1="70.05" x2="209.2" y2="70.05" stroke="#222" stroke-width="1.2"/>
<line x1="344.3" y1="70.05" x2="341.7" y2="70.05" stroke="#222" stroke-width="1.2"/>
<line x1="206.6" y1="65.5" x2="208.3" y2="65.5" stroke="#222" stroke-width="1.2"/>
<line x1="344.3" y1="65.5" x2="342.6" y2="65.5" stroke="#222" stroke-width="1.2"/>
<line x1="206.6" y1="60.95" x2="208.3" y2="60.95" stroke="#222" stroke-width="1.2"/>
<line x1="344.3" y1="60.95" x2="342.6" y2="60.95" stroke="#222" stroke-width="1.2"/>
<line x1="241.03" y1="170.1" x2="241.03" y2="167.6" stroke="#222" stroke-width="1"/>
<line x1="241.03" y1="60.95" x2="241.03" y2="63.45" stroke="#222" stroke-width="1"/>
<line x1="275.45" y1="170.1" x2="275.45" y2="167.6" stroke="#222" stroke-width="1"/>
<line x1="275.45" y1="60.95" x2="275.45" y2="63.45" stroke="#222" stroke-width="1"/>
<line x1="309.88" y1="170.1" x2="309.88" y2="167.6" stroke="#222" stroke-width="1"/>
<line x1="309.88" y1="60.95" x2="309.88" y2="63.45" stroke="#222" stroke-width="1"/>
<rect x="301.7" y="60.95" width="42.6" height="9.5" fill="#fff" stroke="#222" stroke-width="0.9"/>
<text x="323.2" y="68.95" class="fb" text-anchor="middle">f=31.8 kHz</text>
<rect x="206.6" y="60.95" width="137.7" height="109.15" fill="none" stroke="#1a1a1a" stroke-width="1.6"/>
<text x="204.6" y="72.35" class="tk" text-anchor="end">100</text>
<text x="204.6" y="95.09" class="tk" text-anchor="end">50</text>
<text x="204.6" y="117.83" class="tk" text-anchor="end">0</text>
<text x="204.6" y="140.56" class="tk" text-anchor="end">-50</text>
<text x="204.6" y="163.3" class="tk" text-anchor="end">-100</text>
<text x="206.6" y="178.4" class="tk" text-anchor="middle">0</text>
<text x="241.03" y="178.4" class="tk" text-anchor="middle">0.5</text>
<text x="275.45" y="178.4" class="tk" text-anchor="middle">1</text>
<text x="309.88" y="178.4" class="tk" text-anchor="middle">1.5</text>
<text x="344.3" y="178.4" class="tk" text-anchor="middle">2</text>
<text transform="translate(186.1,117.23) rotate(-90)" class="al" text-anchor="middle"><tspan font-style="italic">y</tspan> displacement (µm)</text>
<text x="275.45" y="187.1" class="al" text-anchor="middle">Time (ms)</text>
<rect x="385.4" y="60.95" width="132.9" height="109.15" fill="#fff"/>
<line x1="429.7" y1="60.95" x2="429.7" y2="170.1" stroke="#dcdcdc" stroke-width="1.2"/>
<line x1="385.4" y1="133.72" x2="518.3" y2="133.72" stroke="#dcdcdc" stroke-width="1.2"/>
<line x1="474" y1="60.95" x2="474" y2="170.1" stroke="#dcdcdc" stroke-width="1.2"/>
<line x1="385.4" y1="97.33" x2="518.3" y2="97.33" stroke="#dcdcdc" stroke-width="1.2"/>
<line x1="429.7" y1="170.1" x2="429.7" y2="168.1" stroke="#222" stroke-width="1"/>
<line x1="429.7" y1="60.95" x2="429.7" y2="62.95" stroke="#222" stroke-width="1"/>
<line x1="385.4" y1="133.72" x2="387.4" y2="133.72" stroke="#222" stroke-width="1"/>
<line x1="518.3" y1="133.72" x2="516.3" y2="133.72" stroke="#222" stroke-width="1"/>
<line x1="474" y1="170.1" x2="474" y2="168.1" stroke="#222" stroke-width="1"/>
<line x1="474" y1="60.95" x2="474" y2="62.95" stroke="#222" stroke-width="1"/>
<line x1="385.4" y1="97.33" x2="387.4" y2="97.33" stroke="#222" stroke-width="1"/>
<line x1="518.3" y1="97.33" x2="516.3" y2="97.33" stroke="#222" stroke-width="1"/>
<line x1="385.4" y1="170.1" x2="512.1" y2="98.3" stroke="#111" stroke-width="2" stroke-dasharray="6.5,4.5"/>
<circle cx="396.47" cy="169.01" r="2.2" fill="#111"/>
<circle cx="407.55" cy="157.37" r="2.2" fill="#111"/>
<circle cx="416.41" cy="154.82" r="2.2" fill="#111"/>
<circle cx="435.02" cy="138.08" r="2.2" fill="#111"/>
<circle cx="457.61" cy="124.26" r="2.2" fill="#111"/>
<circle cx="476.21" cy="112.98" r="2.2" fill="#111"/>
<circle cx="485.07" cy="123.17" r="2.2" fill="#111"/>
<circle cx="501.02" cy="106.43" r="2.2" fill="#111"/>
<circle cx="510.33" cy="100.24" r="2.2" fill="#111"/>
<rect x="388.2" y="65.55" width="35.2" height="10.8" fill="#fff" stroke="#222" stroke-width="0.9"/>
<text x="405.8" y="72.85" class="fb2" text-anchor="middle">y=0.69x</text>
<rect x="385.4" y="60.95" width="132.9" height="109.15" fill="none" stroke="#1a1a1a" stroke-width="1.5"/>
<text x="383.4" y="172.4" class="tk" text-anchor="end">0</text>
<text x="385.4" y="178.4" class="tk" text-anchor="middle">0</text>
<text x="383.4" y="136.02" class="tk" text-anchor="end">1</text>
<text x="429.7" y="178.4" class="tk" text-anchor="middle">1</text>
<text x="383.4" y="99.63" class="tk" text-anchor="end">2</text>
<text x="474" y="178.4" class="tk" text-anchor="middle">2</text>
<text x="383.4" y="63.25" class="tk" text-anchor="end">3</text>
<text x="518.3" y="178.4" class="tk" text-anchor="middle">3</text>
<text transform="translate(359.2,116.73) rotate(-90)" class="al" text-anchor="middle">Energy deposition</text>
<text transform="translate(371.7,116.73) rotate(-90)" class="al" text-anchor="middle">in water (J)</text>
<text x="450.85" y="187.9" class="al" text-anchor="middle">Consumed</text>
<text x="451.85" y="201.1" class="al" text-anchor="middle">electric energy (J)</text>
<text x="272.5" y="238.6" class="tt" text-anchor="middle">(B) Right-angled waveguide</text>
<text transform="translate(97.1,261.6) scale(1.0615,1)" class="st" text-anchor="middle">1. Flexural needle tip</text>
<text transform="translate(97.1,277.9) scale(1.0615,1)" class="st" text-anchor="middle">displacement in air</text>
<text transform="translate(275.45,261.6) scale(1.0615,1)" class="st" text-anchor="middle">2. Flexural needle tip</text>
<text transform="translate(275.45,277.9) scale(1.0615,1)" class="st" text-anchor="middle">displacement in water</text>
<text transform="translate(451.05,262) scale(1.0615,1)" class="st" text-anchor="middle">3. Calorimetry</text>
<rect x="28.2" y="284.8" width="19.98" height="108.5" fill="#e2f1fa"/>
<rect x="48.18" y="284.8" width="117.82" height="108.5" fill="#fde6dc"/>
<line x1="28.2" y1="293.84" x2="166" y2="293.84" stroke="#6a5050" stroke-opacity="0.11" stroke-width="1"/>
<line x1="28.2" y1="316.45" x2="166" y2="316.45" stroke="#6a5050" stroke-opacity="0.11" stroke-width="1"/>
<line x1="28.2" y1="361.65" x2="166" y2="361.65" stroke="#6a5050" stroke-opacity="0.11" stroke-width="1"/>
<line x1="28.2" y1="384.26" x2="166" y2="384.26" stroke="#6a5050" stroke-opacity="0.11" stroke-width="1"/>
<polyline points="28.20,339.05 28.37,339.05 28.54,339.05 28.72,339.05 28.89,339.05 29.06,339.05 29.23,339.05 29.41,339.05 29.58,339.05 29.75,339.05 29.92,339.05 30.09,339.05 30.27,339.05 30.44,339.05 30.61,339.05 30.78,339.05 30.96,339.05 31.13,339.05 31.30,339.05 31.47,339.05 31.64,339.05 31.82,339.05 31.99,339.05 32.16,339.05 32.33,339.05 32.51,339.05 32.68,339.05 32.85,339.05 33.02,339.05 33.20,339.05 33.37,339.05 33.54,339.05 33.71,339.05 33.88,339.05 34.06,339.05 34.23,339.05 34.40,339.05 34.57,339.05 34.75,339.05 34.92,339.05 35.09,339.05 35.26,339.05 35.43,339.05 35.61,339.05 35.78,339.05 35.95,339.05 36.12,342.70 36.30,344.24 36.47,344.55 36.64,343.07 36.81,339.84 36.98,335.59 37.16,331.32 37.33,328.19 37.50,327.25 37.67,329.12 37.85,333.68 38.02,340.12 38.19,347.18 38.36,352.60 38.53,354.78 38.71,352.80 38.88,346.83 39.05,338.25 39.22,329.06 39.40,321.53 39.57,317.63 39.74,318.50 39.91,324.18 40.09,333.49 40.26,344.02 40.43,353.32 40.60,359.32 40.77,360.47 40.95,356.37 41.12,347.77 41.29,336.54 41.46,325.25 41.64,316.70 41.81,313.08 41.98,315.47 42.15,323.51 42.32,335.42 42.50,347.98 42.67,358.41 42.84,364.14 43.01,363.58 43.19,356.63 43.36,344.87 43.53,331.25 43.70,319.08 43.87,311.06 44.05,309.19 44.22,314.03 44.39,324.54 44.56,338.34 44.74,352.93 44.91,364.04 45.08,368.95 45.25,366.39 45.42,356.80 45.60,342.29 45.77,325.69 45.94,311.23 46.11,302.70 46.29,302.28 46.46,310.26 46.63,324.90 46.80,342.59 46.98,358.90 47.15,370.24 47.32,373.72 47.49,368.31 47.66,355.12 47.84,337.31 48.01,318.48 48.18,303.77 48.35,296.79 48.53,299.36 48.70,310.98 48.87,329.01 49.04,348.74 49.21,365.58 49.39,375.76 49.56,376.81 49.73,368.44 49.90,352.58 50.08,332.89 50.25,313.86 50.42,300.32 50.59,295.56 50.76,300.76 50.94,314.75 51.11,334.23 51.28,354.76 51.45,371.17 51.63,379.51 51.80,377.76 51.97,366.29 52.14,347.88 52.32,326.98 52.49,308.58 52.66,297.07 52.83,295.15 53.00,303.26 53.18,319.43 53.35,339.64 53.52,358.13 53.69,371.54 53.87,376.74 54.04,372.55 54.21,360.06 54.38,342.31 54.55,323.20 54.73,307.50 54.90,299.06 55.07,299.79 55.24,309.43 55.42,325.61 55.59,344.63 55.76,361.92 55.93,373.08 56.10,375.56 56.28,368.88 56.45,354.75 56.62,336.63 56.79,318.87 56.97,305.62 57.14,299.92 57.31,302.95 57.48,313.80 57.65,329.74 57.83,346.53 58.00,360.35 58.17,368.18 58.34,368.27 58.52,360.72 58.69,347.48 58.86,331.88 59.03,317.66 59.20,308.17 59.38,305.55 59.55,310.26 59.72,321.02 59.89,335.14 60.07,349.72 60.24,361.04 60.41,366.44 60.58,364.83 60.76,356.79 60.93,344.40 61.10,331.15 61.27,320.19 61.44,313.53 61.62,312.71 61.79,317.85 61.96,327.69 62.13,339.93 62.31,351.95 62.48,360.33 62.65,363.19 62.82,359.95 62.99,351.48 63.17,339.93 63.34,327.90 63.51,318.46 63.68,313.86 63.86,314.99 64.03,321.40 64.20,331.38 64.37,342.45 64.54,352.06 64.72,358.28 64.89,359.62 65.06,355.98 65.23,348.41 65.41,338.64 65.58,328.92 65.75,321.54 65.92,318.27 66.09,319.89 66.27,326.02 66.44,335.20 66.61,345.28 66.78,353.80 66.96,358.67 67.13,358.66 67.30,353.73 67.47,344.99 67.65,335.53 67.82,328.55 67.99,323.98 68.16,322.88 68.33,325.49 68.51,331.16 68.68,338.54 68.85,348.01 69.02,355.24 69.20,358.48 69.37,357.14 69.54,351.68 69.71,343.53 69.88,335.02 70.06,327.90 70.23,323.56 70.40,322.99 70.57,326.27 70.75,332.58 70.92,340.25 71.09,347.20 71.26,352.17 71.43,353.91 71.61,351.97 71.78,346.78 71.95,339.60 72.12,331.19 72.30,324.38 72.47,321.00 72.64,321.83 72.81,326.63 72.98,334.23 73.16,342.82 73.33,350.40 73.50,355.39 73.67,356.53 73.85,353.59 74.02,347.32 74.19,339.30 74.36,331.47 74.54,325.45 74.71,322.77 74.88,324.16 75.05,329.39 75.22,337.30 75.40,345.69 75.57,352.58 75.74,356.22 75.91,355.84 76.09,351.42 76.26,343.96 76.43,334.88 76.60,326.27 76.77,320.56 76.95,319.07 77.12,322.05 77.29,328.73 77.46,337.46 77.64,346.09 77.81,352.78 77.98,355.85 78.15,354.56 78.32,349.22 78.50,341.12 78.67,332.06 78.84,324.27 79.01,319.67 79.19,319.37 79.36,323.45 79.53,330.94 79.70,340.07 79.88,348.67 80.05,354.69 80.22,356.70 80.39,354.22 80.56,347.84 80.74,339.09 80.91,330.21 81.08,323.29 81.25,319.97 81.43,320.97 81.60,326.00 81.77,333.81 81.94,342.52 82.11,350.05 82.29,354.65 82.46,355.28 82.63,351.87 82.80,345.30 82.98,337.21 83.15,329.74 83.32,324.43 83.49,322.51 83.66,324.38 83.84,329.53 84.01,336.71 84.18,343.84 84.35,349.48 84.53,352.43 84.70,352.06 84.87,348.51 85.04,342.64 85.21,335.62 85.39,328.98 85.56,324.69 85.73,323.74 85.90,326.33 86.08,331.78 86.25,338.79 86.42,345.66 86.59,350.78 86.77,352.95 86.94,351.68 87.11,347.33 87.28,340.95 87.45,334.24 87.63,328.72 87.80,325.60 87.97,325.60 88.14,328.67 88.32,334.06 88.49,340.37 88.66,345.97 88.83,349.74 89.00,350.83 89.18,349.01 89.35,344.74 89.52,339.07 89.69,332.92 89.87,328.16 90.04,325.94 90.21,326.74 90.38,330.34 90.55,335.85 90.73,341.21 90.90,345.31 91.07,347.75 91.24,348.00 91.42,346.01 91.59,342.29 91.76,337.53 91.93,332.08 92.10,328.26 92.28,326.94 92.45,328.39 92.62,332.24 92.79,337.53 92.97,342.99 93.14,347.33 93.31,349.53 93.48,349.11 93.66,346.20 93.83,341.54 94.00,336.59 94.17,332.61 94.34,330.11 94.52,329.66 94.69,331.32 94.86,334.67 95.03,338.94 95.21,343.67 95.38,347.11 95.55,348.52 95.72,347.56 95.89,344.47 96.07,340.01 96.24,335.52 96.41,331.92 96.58,329.93 96.76,330.01 96.93,332.12 97.10,335.74 97.27,340.16 97.44,344.44 97.62,347.29 97.79,348.05 97.96,346.55 98.13,343.17 98.31,338.74 98.48,335.06 98.65,332.28 98.82,331.02 98.99,331.57 99.17,333.77 99.34,337.09 99.51,340.97 99.68,344.40 99.86,346.42 100.03,346.56 100.20,344.80 100.37,341.58 100.55,337.60 100.72,333.59 100.89,330.82 101.06,329.93 101.23,331.10 101.41,334.04 101.58,338.04 101.75,342.14 101.92,345.38 102.10,346.99 102.27,346.62 102.44,344.37 102.61,340.80 102.78,337.15 102.96,334.30 103.13,332.54 103.30,332.27 103.47,333.55 103.65,336.07 103.82,339.27 103.99,342.78 104.16,345.31 104.33,346.29 104.51,345.50 104.68,343.15 104.85,339.82 105.02,336.16 105.20,333.15 105.37,331.54 105.54,331.72 105.71,333.61 105.88,336.75 106.06,340.31 106.23,343.38 106.40,345.38 106.57,345.85 106.75,344.72 106.92,342.26 107.09,339.07 107.26,335.72 107.44,333.22 107.61,332.15 107.78,332.75 107.95,334.86 108.12,337.97 108.30,341.10 108.47,343.61 108.64,345.04 108.81,345.08 108.99,343.74 109.16,341.34 109.33,338.37 109.50,335.38 109.67,333.33 109.85,332.71 110.02,333.64 110.19,335.90 110.36,338.94 110.54,341.75 110.71,343.91 110.88,344.95 111.05,344.63 111.22,343.03 111.40,340.55 111.57,337.63 111.74,334.97 111.91,333.35 112.09,333.15 112.26,334.40 112.43,336.79 112.60,339.73 112.77,342.50 112.95,344.46 113.12,345.18 113.29,344.48 113.46,342.54 113.64,339.85 113.81,337.10 113.98,334.91 114.15,333.76 114.33,333.94 114.50,335.37 114.67,337.71 114.84,340.26 115.01,342.38 115.19,343.74 115.36,344.02 115.53,343.16 115.70,341.39 115.88,339.10 116.05,336.50 116.22,334.57 116.39,333.77 116.56,334.28 116.74,335.97 116.91,338.42 117.08,341.03 117.25,343.21 117.43,344.43 117.60,344.41 117.77,343.15 117.94,340.96 118.11,338.35 118.29,335.96 118.46,334.33 118.63,333.86 118.80,334.65 118.98,336.51 119.15,338.97 119.32,341.47 119.49,343.39 119.66,344.28 119.84,343.93 120.01,342.43 120.18,340.13 120.35,337.58 120.53,335.40 120.70,334.08 120.87,333.95 121.04,335.02 121.22,337.03 121.39,339.46 121.56,341.64 121.73,343.17 121.90,343.70 122.08,343.08 122.25,341.49 122.42,339.29 122.59,337.03 122.77,335.24 122.94,334.32 123.11,334.48 123.28,335.69 123.45,337.65 123.63,339.88 123.80,341.86 123.97,343.10 124.14,343.32 124.32,342.46 124.49,340.73 124.66,338.53 124.83,336.23 125.00,334.54 125.18,333.86 125.35,334.34 125.52,335.86 125.69,338.06 125.87,340.17 126.04,341.84 126.21,342.75 126.38,342.69 126.55,341.66 126.73,339.93 126.90,337.84 127.07,335.84 127.24,334.51 127.42,334.17 127.59,334.87 127.76,336.46 127.93,338.56 128.10,340.69 128.28,342.31 128.45,343.04 128.62,342.70 128.79,341.39 128.97,339.43 129.14,337.23 129.31,335.34 129.48,334.25 129.66,334.20 129.83,335.20 130.00,337.01 130.17,339.19 130.34,341.22 130.52,342.63 130.69,343.07 130.86,342.47 131.03,340.96 131.21,338.92 131.38,337.04 131.55,335.60 131.72,334.89 131.89,335.09 132.07,336.14 132.24,337.79 132.41,339.59 132.58,341.13 132.76,342.08 132.93,342.22 133.10,341.52 133.27,340.16 133.44,338.43 133.62,336.55 133.79,335.20 133.96,334.70 134.13,335.16 134.31,336.47 134.48,338.30 134.65,340.25 134.82,341.83 135.00,342.67 135.17,342.57 135.34,341.57 135.51,339.91 135.68,338.00 135.86,336.29 136.03,335.18 136.20,334.94 136.37,335.62 136.55,337.04 136.72,338.87 136.89,340.66 137.06,342.00 137.23,342.57 137.41,342.24 137.58,341.11 137.75,339.44 137.92,337.69 138.10,336.25 138.27,335.44 138.44,335.44 138.61,336.24 138.78,337.65 138.96,339.36 139.13,340.99 139.30,342.10 139.47,342.43 139.65,341.90 139.82,340.63 139.99,338.94 140.16,337.27 140.33,335.98 140.51,335.36 140.68,335.56 140.85,336.53 141.02,338.04 141.20,339.75 141.37,341.25 141.54,342.16 141.71,342.26 141.89,341.53 142.06,340.14 142.23,338.45 142.40,336.94 142.57,335.87 142.75,335.48 142.92,335.87 143.09,336.94 143.26,338.44 143.44,340.10 143.61,341.45 143.78,342.15 143.95,342.03 144.12,341.12 144.30,339.63 144.47,337.95 144.64,336.46 144.81,335.51 144.99,335.32 145.16,335.93 145.33,337.19 145.50,338.81 145.67,340.42 145.85,341.62 146.02,342.10 146.19,341.77 146.36,340.69 146.54,339.13 146.71,337.46 146.88,336.07 147.05,335.30 147.22,335.32 147.40,336.13 147.57,337.53 147.74,339.18 147.91,340.70 148.09,341.71 148.26,341.99 148.43,341.45 148.60,340.24 148.78,338.64 148.95,337.03 149.12,335.79 149.29,335.23 149.46,335.47 149.64,336.45 149.81,337.94 149.98,339.57 150.15,340.95 150.33,341.77 150.50,341.83 150.67,341.13 150.84,339.83 151.01,338.31 151.19,337.09 151.36,336.24 151.53,335.97 151.70,336.33 151.88,337.23 152.05,338.46 152.22,339.91 152.39,341.08 152.56,341.66 152.74,341.53 152.91,340.71 153.08,339.41 153.25,337.96 153.43,336.71 153.60,335.92 153.77,335.80 153.94,336.37 154.11,337.48 154.29,338.89 154.46,340.32 154.63,341.36 154.80,341.76 154.98,341.44 155.15,340.47 155.32,339.09 155.49,337.85 155.67,336.89 155.84,336.38 156.01,336.44 156.18,337.04 156.35,338.04 156.53,339.31 156.70,340.62 156.87,341.47 157.04,341.68 157.22,341.19 157.39,340.13 157.56,338.75 157.73,337.39 157.90,336.37 158.08,335.93 158.25,336.17 158.42,337.03 158.59,338.31 158.77,339.59 158.94,340.61 159.11,341.20 159.28,341.22 159.45,340.67 159.63,339.68 159.80,338.49 159.97,337.36 160.14,336.59 160.32,336.36 160.49,336.72 160.66,337.59 160.83,338.74 161.00,339.94 161.18,340.87 161.35,341.32 161.52,341.18 161.69,340.50 161.87,339.43 162.04,338.20 162.21,337.10 162.38,336.43 162.56,336.35 162.73,336.88 162.90,337.88 163.07,339.13 163.24,340.32 163.42,341.17 163.59,341.48 163.76,341.18 163.93,340.35 164.11,339.19 164.28,337.97 164.45,337.00 164.62,336.50 164.79,336.58 164.97,337.22 165.14,338.28 165.31,339.47 165.48,340.51 165.66,341.18 165.83,341.31 166.00,340.90" fill="none" stroke="#0c0a0a" stroke-width="0.95" stroke-linejoin="round"/>
<line x1="28.2" y1="388.78" x2="29.9" y2="388.78" stroke="#222" stroke-width="1.2"/>
<line x1="166" y1="388.78" x2="164.3" y2="388.78" stroke="#222" stroke-width="1.2"/>
<line x1="28.2" y1="384.26" x2="30.8" y2="384.26" stroke="#222" stroke-width="1.2"/>
<line x1="166" y1="384.26" x2="163.4" y2="384.26" stroke="#222" stroke-width="1.2"/>
<line x1="28.2" y1="379.74" x2="29.9" y2="379.74" stroke="#222" stroke-width="1.2"/>
<line x1="166" y1="379.74" x2="164.3" y2="379.74" stroke="#222" stroke-width="1.2"/>
<line x1="28.2" y1="375.22" x2="29.9" y2="375.22" stroke="#222" stroke-width="1.2"/>
<line x1="166" y1="375.22" x2="164.3" y2="375.22" stroke="#222" stroke-width="1.2"/>
<line x1="28.2" y1="370.7" x2="29.9" y2="370.7" stroke="#222" stroke-width="1.2"/>
<line x1="166" y1="370.7" x2="164.3" y2="370.7" stroke="#222" stroke-width="1.2"/>
<line x1="28.2" y1="366.18" x2="29.9" y2="366.18" stroke="#222" stroke-width="1.2"/>
<line x1="166" y1="366.18" x2="164.3" y2="366.18" stroke="#222" stroke-width="1.2"/>
<line x1="28.2" y1="361.65" x2="30.8" y2="361.65" stroke="#222" stroke-width="1.2"/>
<line x1="166" y1="361.65" x2="163.4" y2="361.65" stroke="#222" stroke-width="1.2"/>
<line x1="28.2" y1="357.13" x2="29.9" y2="357.13" stroke="#222" stroke-width="1.2"/>
<line x1="166" y1="357.13" x2="164.3" y2="357.13" stroke="#222" stroke-width="1.2"/>
<line x1="28.2" y1="352.61" x2="29.9" y2="352.61" stroke="#222" stroke-width="1.2"/>
<line x1="166" y1="352.61" x2="164.3" y2="352.61" stroke="#222" stroke-width="1.2"/>
<line x1="28.2" y1="348.09" x2="29.9" y2="348.09" stroke="#222" stroke-width="1.2"/>
<line x1="166" y1="348.09" x2="164.3" y2="348.09" stroke="#222" stroke-width="1.2"/>
<line x1="28.2" y1="343.57" x2="29.9" y2="343.57" stroke="#222" stroke-width="1.2"/>
<line x1="166" y1="343.57" x2="164.3" y2="343.57" stroke="#222" stroke-width="1.2"/>
<line x1="28.2" y1="339.05" x2="30.8" y2="339.05" stroke="#222" stroke-width="1.2"/>
<line x1="166" y1="339.05" x2="163.4" y2="339.05" stroke="#222" stroke-width="1.2"/>
<line x1="28.2" y1="334.53" x2="29.9" y2="334.53" stroke="#222" stroke-width="1.2"/>
<line x1="166" y1="334.53" x2="164.3" y2="334.53" stroke="#222" stroke-width="1.2"/>
<line x1="28.2" y1="330.01" x2="29.9" y2="330.01" stroke="#222" stroke-width="1.2"/>
<line x1="166" y1="330.01" x2="164.3" y2="330.01" stroke="#222" stroke-width="1.2"/>
<line x1="28.2" y1="325.49" x2="29.9" y2="325.49" stroke="#222" stroke-width="1.2"/>
<line x1="166" y1="325.49" x2="164.3" y2="325.49" stroke="#222" stroke-width="1.2"/>
<line x1="28.2" y1="320.97" x2="29.9" y2="320.97" stroke="#222" stroke-width="1.2"/>
<line x1="166" y1="320.97" x2="164.3" y2="320.97" stroke="#222" stroke-width="1.2"/>
<line x1="28.2" y1="316.45" x2="30.8" y2="316.45" stroke="#222" stroke-width="1.2"/>
<line x1="166" y1="316.45" x2="163.4" y2="316.45" stroke="#222" stroke-width="1.2"/>
<line x1="28.2" y1="311.93" x2="29.9" y2="311.93" stroke="#222" stroke-width="1.2"/>
<line x1="166" y1="311.93" x2="164.3" y2="311.93" stroke="#222" stroke-width="1.2"/>
<line x1="28.2" y1="307.4" x2="29.9" y2="307.4" stroke="#222" stroke-width="1.2"/>
<line x1="166" y1="307.4" x2="164.3" y2="307.4" stroke="#222" stroke-width="1.2"/>
<line x1="28.2" y1="302.88" x2="29.9" y2="302.88" stroke="#222" stroke-width="1.2"/>
<line x1="166" y1="302.88" x2="164.3" y2="302.88" stroke="#222" stroke-width="1.2"/>
<line x1="28.2" y1="298.36" x2="29.9" y2="298.36" stroke="#222" stroke-width="1.2"/>
<line x1="166" y1="298.36" x2="164.3" y2="298.36" stroke="#222" stroke-width="1.2"/>
<line x1="28.2" y1="293.84" x2="30.8" y2="293.84" stroke="#222" stroke-width="1.2"/>
<line x1="166" y1="293.84" x2="163.4" y2="293.84" stroke="#222" stroke-width="1.2"/>
<line x1="28.2" y1="289.32" x2="29.9" y2="289.32" stroke="#222" stroke-width="1.2"/>
<line x1="166" y1="289.32" x2="164.3" y2="289.32" stroke="#222" stroke-width="1.2"/>
<line x1="28.2" y1="284.8" x2="29.9" y2="284.8" stroke="#222" stroke-width="1.2"/>
<line x1="166" y1="284.8" x2="164.3" y2="284.8" stroke="#222" stroke-width="1.2"/>
<line x1="62.65" y1="393.3" x2="62.65" y2="390.8" stroke="#222" stroke-width="1"/>
<line x1="62.65" y1="284.8" x2="62.65" y2="287.3" stroke="#222" stroke-width="1"/>
<line x1="97.1" y1="393.3" x2="97.1" y2="390.8" stroke="#222" stroke-width="1"/>
<line x1="97.1" y1="284.8" x2="97.1" y2="287.3" stroke="#222" stroke-width="1"/>
<line x1="131.55" y1="393.3" x2="131.55" y2="390.8" stroke="#222" stroke-width="1"/>
<line x1="131.55" y1="284.8" x2="131.55" y2="287.3" stroke="#222" stroke-width="1"/>
<rect x="123.4" y="284.8" width="42.6" height="9.5" fill="#fff" stroke="#222" stroke-width="0.9"/>
<text x="144.9" y="292.8" class="fb" text-anchor="middle">f=31.4 kHz</text>
<rect x="28.2" y="284.8" width="137.8" height="108.5" fill="none" stroke="#1a1a1a" stroke-width="1.6"/>
<text x="26.2" y="296.14" class="tk" text-anchor="end">100</text>
<text x="26.2" y="318.75" class="tk" text-anchor="end">50</text>
<text x="26.2" y="341.35" class="tk" text-anchor="end">0</text>
<text x="26.2" y="363.95" class="tk" text-anchor="end">-50</text>
<text x="26.2" y="386.56" class="tk" text-anchor="end">-100</text>
<text x="28.2" y="400.9" class="tk" text-anchor="middle">0</text>
<text x="62.65" y="400.9" class="tk" text-anchor="middle">0.5</text>
<text x="97.1" y="400.9" class="tk" text-anchor="middle">1</text>
<text x="131.55" y="400.9" class="tk" text-anchor="middle">1.5</text>
<text x="166" y="400.9" class="tk" text-anchor="middle">2</text>
<text transform="translate(7.7,340.75) rotate(-90)" class="al" text-anchor="middle"><tspan font-style="italic">y</tspan> displacement (µm)</text>
<text x="97.1" y="411.3" class="al" text-anchor="middle">Time (ms)</text>
<rect x="206.6" y="284.8" width="21.48" height="108.5" fill="#e2f1fa"/>
<rect x="228.08" y="284.8" width="116.22" height="108.5" fill="#fde6dc"/>
<line x1="206.6" y1="293.84" x2="344.3" y2="293.84" stroke="#6a5050" stroke-opacity="0.11" stroke-width="1"/>
<line x1="206.6" y1="316.45" x2="344.3" y2="316.45" stroke="#6a5050" stroke-opacity="0.11" stroke-width="1"/>
<line x1="206.6" y1="361.65" x2="344.3" y2="361.65" stroke="#6a5050" stroke-opacity="0.11" stroke-width="1"/>
<line x1="206.6" y1="384.26" x2="344.3" y2="384.26" stroke="#6a5050" stroke-opacity="0.11" stroke-width="1"/>
<polyline points="206.60,339.05 206.77,339.05 206.94,339.05 207.12,339.05 207.29,339.05 207.46,339.05 207.63,339.05 207.80,339.05 207.98,339.05 208.15,339.05 208.32,339.05 208.49,339.05 208.67,339.05 208.84,339.05 209.01,339.05 209.18,339.05 209.35,339.05 209.53,339.05 209.70,339.05 209.87,339.05 210.04,339.05 210.21,339.05 210.39,339.05 210.56,339.05 210.73,339.05 210.90,339.05 211.08,339.05 211.25,339.05 211.42,339.05 211.59,339.05 211.76,339.05 211.94,339.05 212.11,339.05 212.28,339.05 212.45,339.05 212.62,339.05 212.80,339.05 212.97,339.05 213.14,339.05 213.31,339.05 213.48,339.05 213.66,339.05 213.83,339.05 214.00,339.05 214.17,339.05 214.35,339.05 214.52,339.05 214.69,341.91 214.86,342.36 215.03,341.75 215.21,339.89 215.38,337.32 215.55,334.61 215.72,332.47 215.89,331.68 216.07,332.80 216.24,335.88 216.41,340.63 216.58,346.38 216.76,351.08 216.93,352.99 217.10,351.42 217.27,346.49 217.44,339.10 217.62,330.91 217.79,324.34 217.96,320.87 218.13,321.54 218.30,326.40 218.48,334.50 218.65,344.00 218.82,352.67 218.99,358.37 219.17,359.44 219.34,355.59 219.51,347.59 219.68,337.25 219.85,327.02 220.03,319.22 220.20,315.90 220.37,318.09 220.54,325.45 220.71,336.37 220.89,348.32 221.06,358.37 221.23,363.97 221.40,363.53 221.57,356.95 221.75,345.59 221.92,332.83 222.09,321.93 222.26,314.66 222.44,313.01 222.61,317.30 222.78,326.65 222.95,339.03 223.12,353.20 223.30,363.99 223.47,368.77 223.64,366.51 223.81,357.44 223.98,343.57 224.16,330.00 224.33,319.07 224.50,312.53 224.67,312.14 224.85,318.36 225.02,329.92 225.19,345.17 225.36,361.53 225.53,373.09 225.71,376.48 225.88,370.75 226.05,357.31 226.22,339.18 226.39,321.31 226.57,307.49 226.74,301.28 226.91,303.84 227.08,314.54 227.25,330.82 227.43,348.32 227.60,363.03 227.77,371.82 227.94,372.64 228.12,365.35 228.29,351.71 228.46,334.92 228.63,318.84 228.80,307.55 228.98,303.54 229.15,307.95 229.32,319.76 229.49,336.17 229.66,353.24 229.84,366.92 230.01,373.89 230.18,372.24 230.35,362.57 230.53,347.17 230.70,329.07 230.87,312.50 231.04,302.02 231.21,300.29 231.39,307.55 231.56,321.84 231.73,339.64 231.90,356.36 232.07,368.43 232.25,373.05 232.42,369.43 232.59,358.41 232.76,342.59 232.94,325.48 233.11,311.41 233.28,303.78 233.45,304.38 233.62,313.15 233.80,328.02 233.97,344.41 234.14,357.73 234.31,366.59 234.48,368.89 234.66,363.81 234.83,352.91 235.00,338.83 235.17,322.56 235.34,310.33 235.52,305.16 235.69,308.08 235.86,318.16 236.03,332.86 236.21,347.92 236.38,360.06 236.55,366.91 236.72,366.96 236.89,360.26 237.07,348.61 237.24,334.64 237.41,321.13 237.58,312.13 237.75,309.72 237.93,314.13 238.10,324.02 238.27,336.85 238.44,347.41 238.62,355.12 238.79,358.54 238.96,357.14 239.13,351.55 239.30,343.04 239.48,332.89 239.65,323.66 239.82,318.31 239.99,317.73 240.16,321.97 240.34,330.17 240.51,340.38 240.68,350.45 240.85,357.57 241.03,360.08 241.20,357.42 241.37,350.24 241.54,340.29 241.71,331.02 241.89,323.81 242.06,320.02 242.23,320.66 242.40,325.36 242.57,332.84 242.75,341.81 242.92,350.32 243.09,355.64 243.26,356.61 243.43,353.23 243.61,346.35 243.78,337.66 243.95,329.28 244.12,323.21 244.30,320.83 244.47,322.39 244.64,327.38 244.81,334.99 244.98,343.39 245.16,350.49 245.33,354.53 245.50,354.42 245.67,350.26 245.84,342.92 246.02,333.74 246.19,324.90 246.36,318.58 246.53,316.50 246.71,319.62 246.88,326.95 247.05,336.84 247.22,346.15 247.39,353.49 247.57,357.20 247.74,356.40 247.91,350.93 248.08,342.39 248.25,332.97 248.43,324.92 248.60,320.15 248.77,319.72 248.94,323.67 249.11,330.92 249.29,339.73 249.46,348.25 249.63,354.11 249.80,355.96 249.98,353.47 250.15,347.36 250.32,339.10 250.49,330.45 250.66,323.63 250.84,320.26 251.01,321.14 251.18,325.92 251.35,333.31 251.52,341.52 251.70,348.60 251.87,352.92 252.04,353.57 252.21,350.53 252.39,344.68 252.56,337.51 252.73,331.18 252.90,326.72 253.07,325.12 253.25,326.48 253.42,330.57 253.59,336.43 253.76,342.66 253.93,347.73 254.11,350.45 254.28,350.17 254.45,347.00 254.62,341.74 254.80,335.66 254.97,330.22 255.14,326.65 255.31,325.82 255.48,327.81 255.66,332.11 255.83,337.64 256.00,343.18 256.17,347.32 256.34,349.11 256.52,348.18 256.69,344.82 256.86,339.86 257.03,334.43 257.20,329.84 257.38,327.24 257.55,327.19 257.72,329.64 257.89,333.96 258.07,339.10 258.24,343.84 258.41,347.06 258.58,348.02 258.75,346.56 258.93,343.08 259.10,338.46 259.27,333.72 259.44,330.06 259.61,328.34 259.79,328.92 259.96,331.61 260.13,335.70 260.30,339.98 260.48,343.44 260.65,345.43 260.82,345.56 260.99,343.89 261.16,340.92 261.34,337.41 261.51,334.16 261.68,331.99 261.85,331.32 262.02,332.23 262.20,334.39 262.37,337.22 262.54,340.09 262.71,342.26 262.88,343.25 263.06,342.92 263.23,341.45 263.40,339.29 263.57,337.09 263.75,335.40 263.92,334.46 264.09,334.17 264.26,334.73 264.43,336.11 264.61,338.02 264.78,340.13 264.95,341.81 265.12,342.65 265.29,342.39 265.47,341.05 265.64,338.90 265.81,336.40 265.98,334.17 266.16,332.80 266.33,332.66 266.50,333.86 266.67,336.16 266.84,339.05 267.02,341.88 267.19,343.92 267.36,344.66 267.53,343.85 267.70,341.66 267.88,338.56 268.05,335.65 268.22,333.31 268.39,332.11 268.56,332.39 268.74,334.12 268.91,336.95 269.08,340.46 269.25,343.79 269.43,345.93 269.60,346.32 269.77,344.82 269.94,341.73 270.11,337.80 270.29,334.08 270.46,331.32 270.63,330.24 270.80,331.23 270.97,334.02 271.15,337.92 271.32,342.14 271.49,345.59 271.66,347.41 271.84,347.18 272.01,344.98 272.18,341.32 272.35,337.10 272.52,333.32 272.70,330.91 272.87,330.45 273.04,332.05 273.21,335.35 273.38,339.57 273.56,343.71 273.73,346.81 273.90,348.12 274.07,347.35 274.25,344.69 274.42,340.79 274.59,336.58 274.76,333.08 274.93,331.14 275.11,331.22 275.28,333.32 275.45,336.95 275.62,341.25 275.79,345.20 275.97,347.88 276.14,348.60 276.31,347.15 276.48,344.03 276.65,340.00 276.83,336.10 277.00,333.19 277.17,331.90 277.34,332.51 277.52,334.82 277.69,338.22 277.86,341.92 278.03,345.02 278.20,346.78 278.38,346.82 278.55,345.16 278.72,342.25 278.89,338.87 279.06,336.01 279.24,334.06 279.41,333.46 279.58,334.31 279.75,336.34 279.93,339.04 280.10,341.99 280.27,344.28 280.44,345.34 280.61,344.97 280.79,343.29 280.96,340.75 281.13,338.06 281.30,335.87 281.47,334.56 281.65,334.36 281.82,335.31 281.99,337.16 282.16,339.43 282.34,341.50 282.51,342.95 282.68,343.47 282.85,342.95 283.02,341.52 283.20,339.56 283.37,337.32 283.54,335.48 283.71,334.52 283.88,334.63 284.06,335.75 284.23,337.59 284.40,339.66 284.57,341.46 284.74,342.58 284.92,342.80 285.09,342.07 285.26,340.59 285.43,338.74 285.61,337.10 285.78,335.90 285.95,335.40 286.12,335.69 286.29,336.66 286.47,338.07 286.64,339.67 286.81,341.03 286.98,341.82 287.15,341.84 287.33,341.09 287.50,339.75 287.67,338.15 287.84,336.71 288.02,335.72 288.19,335.41 288.36,335.86 288.53,336.95 288.70,338.42 288.88,339.98 289.05,341.20 289.22,341.79 289.39,341.62 289.56,340.72 289.74,339.31 289.91,337.81 290.08,336.56 290.25,335.79 290.42,335.69 290.60,336.28 290.77,337.41 290.94,338.82 291.11,340.23 291.29,341.23 291.46,341.60 291.63,341.25 291.80,340.26 291.97,338.88 292.15,337.57 292.32,336.54 292.49,336.00 292.66,336.08 292.83,336.75 293.01,337.85 293.18,339.10 293.35,340.21 293.52,340.92 293.70,341.07 293.87,340.63 294.04,339.70 294.21,338.50 294.38,337.23 294.56,336.28 294.73,335.89 294.90,336.13 295.07,336.96 295.24,338.16 295.42,339.53 295.59,340.69 295.76,341.35 295.93,341.34 296.11,340.67 296.28,339.51 296.45,338.13 296.62,336.84 296.79,335.97 296.97,335.72 297.14,336.16 297.31,337.16 297.48,338.50 297.65,339.85 297.83,340.88 298.00,341.36 298.17,341.18 298.34,340.38 298.51,339.15 298.69,337.87 298.86,336.83 299.03,336.20 299.20,336.14 299.38,336.66 299.55,337.64 299.72,338.85 299.89,340.10 300.06,340.97 300.24,341.27 300.41,340.93 300.58,340.03 300.75,338.79 300.92,337.58 301.10,336.62 301.27,336.14 301.44,336.23 301.61,336.89 301.79,337.94 301.96,339.16 302.13,340.25 302.30,340.94 302.47,341.06 302.65,340.59 302.82,339.65 302.99,338.47 303.16,337.44 303.33,336.68 303.51,336.38 303.68,336.61 303.85,337.30 304.02,338.29 304.19,339.34 304.37,340.20 304.54,340.67 304.71,340.64 304.88,340.12 305.06,339.24 305.23,338.18 305.40,337.18 305.57,336.52 305.74,336.35 305.92,336.72 306.09,337.52 306.26,338.56 306.43,339.57 306.60,340.33 306.78,340.67 306.95,340.51 307.12,339.89 307.29,338.96 307.47,337.88 307.64,336.94 307.81,336.38 307.98,336.36 308.15,336.86 308.33,337.76 308.50,338.84 308.67,339.80 308.84,340.46 309.01,340.67 309.19,340.38 309.36,339.66 309.53,338.70 309.70,337.64 309.88,336.81 310.05,336.40 310.22,336.51 310.39,337.11 310.56,338.06 310.74,339.12 310.91,340.04 311.08,340.60 311.25,340.68 311.42,340.26 311.60,339.44 311.77,338.43 311.94,337.45 312.11,336.75 312.28,336.49 312.46,336.73 312.63,337.40 312.80,338.35 312.97,339.34 313.15,340.14 313.32,340.57 313.49,340.52 313.66,340.01 313.83,339.16 314.01,338.15 314.18,337.24 314.35,336.62 314.52,336.46 314.69,336.78 314.87,337.52 315.04,338.49 315.21,339.45 315.38,340.18 315.56,340.50 315.73,340.31 315.90,339.67 316.07,338.71 316.24,337.65 316.42,336.75 316.59,336.22 316.76,336.18 316.93,336.65 317.10,337.51 317.28,338.56 317.45,339.54 317.62,340.22 317.79,340.42 317.96,340.09 318.14,339.30 318.31,338.22 318.48,337.09 318.65,336.19 318.83,335.74 319.00,335.85 319.17,336.49 319.34,337.52 319.51,338.68 319.69,339.69 319.86,340.31 320.03,340.38 320.20,339.87 320.37,338.90 320.55,337.69 320.72,336.52 320.89,335.67 321.06,335.35 321.24,335.62 321.41,336.43 321.58,337.59 321.75,338.81 321.92,339.80 322.10,340.32 322.27,340.24 322.44,339.57 322.61,338.49 322.78,337.29 322.96,336.26 323.13,335.61 323.30,335.49 323.47,335.93 323.64,336.81 323.82,337.94 323.99,339.10 324.16,339.95 324.33,340.30 324.51,340.07 324.68,339.31 324.85,338.22 325.02,337.16 325.19,336.33 325.37,335.87 325.54,335.89 325.71,336.39 325.88,337.25 326.05,338.30 326.23,339.35 326.40,340.05 326.57,340.24 326.74,339.87 326.92,339.05 327.09,337.97 327.26,336.90 327.43,336.09 327.60,335.73 327.78,335.90 327.95,336.55 328.12,337.54 328.29,338.63 328.46,339.55 328.64,340.10 328.81,340.14 328.98,339.67 329.15,338.80 329.33,337.76 329.50,336.78 329.67,336.11 329.84,335.89 330.01,336.18 330.19,336.91 330.36,337.90 330.53,338.89 330.70,339.68 330.87,340.07 331.05,339.98 331.22,339.43 331.39,338.57 331.56,337.60 331.73,336.77 331.91,336.25 332.08,336.18 332.25,336.55 332.42,337.30 332.60,338.22 332.77,339.14 332.94,339.81 333.11,340.07 333.28,339.86 333.46,339.24 333.63,338.37 333.80,337.45 333.97,336.71 334.14,336.31 334.32,336.36 334.49,336.83 334.66,337.61 334.83,338.49 335.01,339.23 335.18,339.72 335.35,339.84 335.52,339.56 335.69,338.96 335.87,338.19 336.04,337.35 336.21,336.72 336.38,336.46 336.55,336.61 336.73,337.15 336.90,337.93 337.07,338.69 337.24,339.30 337.42,339.64 337.59,339.65 337.76,339.33 337.93,338.76 338.10,338.04 338.28,337.30 338.45,336.79 338.62,336.65 338.79,336.89 338.96,337.46 339.14,338.22 339.31,338.97 339.48,339.55 339.65,339.83 339.82,339.74 340.00,339.32 340.17,338.67 340.34,337.93 340.51,337.30 340.69,336.91 340.86,336.88 341.03,337.19 341.20,337.77 341.37,338.49 341.55,339.17 341.72,339.66 341.89,339.83 342.06,339.66 342.23,339.19 342.41,338.53 342.58,337.85 342.75,337.31 342.92,337.04 343.10,337.09 343.27,337.46 343.44,338.04 343.61,338.71 343.78,339.30 343.96,339.68 344.13,339.76 344.30,339.52" fill="none" stroke="#0c0a0a" stroke-width="0.95" stroke-linejoin="round"/>
<line x1="206.6" y1="388.78" x2="208.3" y2="388.78" stroke="#222" stroke-width="1.2"/>
<line x1="344.3" y1="388.78" x2="342.6" y2="388.78" stroke="#222" stroke-width="1.2"/>
<line x1="206.6" y1="384.26" x2="209.2" y2="384.26" stroke="#222" stroke-width="1.2"/>
<line x1="344.3" y1="384.26" x2="341.7" y2="384.26" stroke="#222" stroke-width="1.2"/>
<line x1="206.6" y1="379.74" x2="208.3" y2="379.74" stroke="#222" stroke-width="1.2"/>
<line x1="344.3" y1="379.74" x2="342.6" y2="379.74" stroke="#222" stroke-width="1.2"/>
<line x1="206.6" y1="375.22" x2="208.3" y2="375.22" stroke="#222" stroke-width="1.2"/>
<line x1="344.3" y1="375.22" x2="342.6" y2="375.22" stroke="#222" stroke-width="1.2"/>
<line x1="206.6" y1="370.7" x2="208.3" y2="370.7" stroke="#222" stroke-width="1.2"/>
<line x1="344.3" y1="370.7" x2="342.6" y2="370.7" stroke="#222" stroke-width="1.2"/>
<line x1="206.6" y1="366.18" x2="208.3" y2="366.18" stroke="#222" stroke-width="1.2"/>
<line x1="344.3" y1="366.18" x2="342.6" y2="366.18" stroke="#222" stroke-width="1.2"/>
<line x1="206.6" y1="361.65" x2="209.2" y2="361.65" stroke="#222" stroke-width="1.2"/>
<line x1="344.3" y1="361.65" x2="341.7" y2="361.65" stroke="#222" stroke-width="1.2"/>
<line x1="206.6" y1="357.13" x2="208.3" y2="357.13" stroke="#222" stroke-width="1.2"/>
<line x1="344.3" y1="357.13" x2="342.6" y2="357.13" stroke="#222" stroke-width="1.2"/>
<line x1="206.6" y1="352.61" x2="208.3" y2="352.61" stroke="#222" stroke-width="1.2"/>
<line x1="344.3" y1="352.61" x2="342.6" y2="352.61" stroke="#222" stroke-width="1.2"/>
<line x1="206.6" y1="348.09" x2="208.3" y2="348.09" stroke="#222" stroke-width="1.2"/>
<line x1="344.3" y1="348.09" x2="342.6" y2="348.09" stroke="#222" stroke-width="1.2"/>
<line x1="206.6" y1="343.57" x2="208.3" y2="343.57" stroke="#222" stroke-width="1.2"/>
<line x1="344.3" y1="343.57" x2="342.6" y2="343.57" stroke="#222" stroke-width="1.2"/>
<line x1="206.6" y1="339.05" x2="209.2" y2="339.05" stroke="#222" stroke-width="1.2"/>
<line x1="344.3" y1="339.05" x2="341.7" y2="339.05" stroke="#222" stroke-width="1.2"/>
<line x1="206.6" y1="334.53" x2="208.3" y2="334.53" stroke="#222" stroke-width="1.2"/>
<line x1="344.3" y1="334.53" x2="342.6" y2="334.53" stroke="#222" stroke-width="1.2"/>
<line x1="206.6" y1="330.01" x2="208.3" y2="330.01" stroke="#222" stroke-width="1.2"/>
<line x1="344.3" y1="330.01" x2="342.6" y2="330.01" stroke="#222" stroke-width="1.2"/>
<line x1="206.6" y1="325.49" x2="208.3" y2="325.49" stroke="#222" stroke-width="1.2"/>
<line x1="344.3" y1="325.49" x2="342.6" y2="325.49" stroke="#222" stroke-width="1.2"/>
<line x1="206.6" y1="320.97" x2="208.3" y2="320.97" stroke="#222" stroke-width="1.2"/>
<line x1="344.3" y1="320.97" x2="342.6" y2="320.97" stroke="#222" stroke-width="1.2"/>
<line x1="206.6" y1="316.45" x2="209.2" y2="316.45" stroke="#222" stroke-width="1.2"/>
<line x1="344.3" y1="316.45" x2="341.7" y2="316.45" stroke="#222" stroke-width="1.2"/>
<line x1="206.6" y1="311.93" x2="208.3" y2="311.93" stroke="#222" stroke-width="1.2"/>
<line x1="344.3" y1="311.93" x2="342.6" y2="311.93" stroke="#222" stroke-width="1.2"/>
<line x1="206.6" y1="307.4" x2="208.3" y2="307.4" stroke="#222" stroke-width="1.2"/>
<line x1="344.3" y1="307.4" x2="342.6" y2="307.4" stroke="#222" stroke-width="1.2"/>
<line x1="206.6" y1="302.88" x2="208.3" y2="302.88" stroke="#222" stroke-width="1.2"/>
<line x1="344.3" y1="302.88" x2="342.6" y2="302.88" stroke="#222" stroke-width="1.2"/>
<line x1="206.6" y1="298.36" x2="208.3" y2="298.36" stroke="#222" stroke-width="1.2"/>
<line x1="344.3" y1="298.36" x2="342.6" y2="298.36" stroke="#222" stroke-width="1.2"/>
<line x1="206.6" y1="293.84" x2="209.2" y2="293.84" stroke="#222" stroke-width="1.2"/>
<line x1="344.3" y1="293.84" x2="341.7" y2="293.84" stroke="#222" stroke-width="1.2"/>
<line x1="206.6" y1="289.32" x2="208.3" y2="289.32" stroke="#222" stroke-width="1.2"/>
<line x1="344.3" y1="289.32" x2="342.6" y2="289.32" stroke="#222" stroke-width="1.2"/>
<line x1="206.6" y1="284.8" x2="208.3" y2="284.8" stroke="#222" stroke-width="1.2"/>
<line x1="344.3" y1="284.8" x2="342.6" y2="284.8" stroke="#222" stroke-width="1.2"/>
<line x1="241.03" y1="393.3" x2="241.03" y2="390.8" stroke="#222" stroke-width="1"/>
<line x1="241.03" y1="284.8" x2="241.03" y2="287.3" stroke="#222" stroke-width="1"/>
<line x1="275.45" y1="393.3" x2="275.45" y2="390.8" stroke="#222" stroke-width="1"/>
<line x1="275.45" y1="284.8" x2="275.45" y2="287.3" stroke="#222" stroke-width="1"/>
<line x1="309.88" y1="393.3" x2="309.88" y2="390.8" stroke="#222" stroke-width="1"/>
<line x1="309.88" y1="284.8" x2="309.88" y2="287.3" stroke="#222" stroke-width="1"/>
<rect x="301.7" y="284.8" width="42.6" height="9.5" fill="#fff" stroke="#222" stroke-width="0.9"/>
<text x="323.2" y="292.8" class="fb" text-anchor="middle">f=31.4 kHz</text>
<rect x="206.6" y="284.8" width="137.7" height="108.5" fill="none" stroke="#1a1a1a" stroke-width="1.6"/>
<text x="204.6" y="296.14" class="tk" text-anchor="end">100</text>
<text x="204.6" y="318.75" class="tk" text-anchor="end">50</text>
<text x="204.6" y="341.35" class="tk" text-anchor="end">0</text>
<text x="204.6" y="363.95" class="tk" text-anchor="end">-50</text>
<text x="204.6" y="386.56" class="tk" text-anchor="end">-100</text>
<text x="206.6" y="400.9" class="tk" text-anchor="middle">0</text>
<text x="241.03" y="400.9" class="tk" text-anchor="middle">0.5</text>
<text x="275.45" y="400.9" class="tk" text-anchor="middle">1</text>
<text x="309.88" y="400.9" class="tk" text-anchor="middle">1.5</text>
<text x="344.3" y="400.9" class="tk" text-anchor="middle">2</text>
<text transform="translate(186.1,340.75) rotate(-90)" class="al" text-anchor="middle"><tspan font-style="italic">y</tspan> displacement (µm)</text>
<text x="275.45" y="411.3" class="al" text-anchor="middle">Time (ms)</text>
<rect x="385.4" y="284.8" width="132.9" height="108.5" fill="#fff"/>
<line x1="429.7" y1="284.8" x2="429.7" y2="393.3" stroke="#dcdcdc" stroke-width="1.2"/>
<line x1="385.4" y1="357.13" x2="518.3" y2="357.13" stroke="#dcdcdc" stroke-width="1.2"/>
<line x1="474" y1="284.8" x2="474" y2="393.3" stroke="#dcdcdc" stroke-width="1.2"/>
<line x1="385.4" y1="320.97" x2="518.3" y2="320.97" stroke="#dcdcdc" stroke-width="1.2"/>
<line x1="429.7" y1="393.3" x2="429.7" y2="391.3" stroke="#222" stroke-width="1"/>
<line x1="429.7" y1="284.8" x2="429.7" y2="286.8" stroke="#222" stroke-width="1"/>
<line x1="385.4" y1="357.13" x2="387.4" y2="357.13" stroke="#222" stroke-width="1"/>
<line x1="518.3" y1="357.13" x2="516.3" y2="357.13" stroke="#222" stroke-width="1"/>
<line x1="474" y1="393.3" x2="474" y2="391.3" stroke="#222" stroke-width="1"/>
<line x1="474" y1="284.8" x2="474" y2="286.8" stroke="#222" stroke-width="1"/>
<line x1="385.4" y1="320.97" x2="387.4" y2="320.97" stroke="#222" stroke-width="1"/>
<line x1="518.3" y1="320.97" x2="516.3" y2="320.97" stroke="#222" stroke-width="1"/>
<line x1="385.4" y1="393.3" x2="505.01" y2="322.02" stroke="#111" stroke-width="2" stroke-dasharray="6.5,4.5"/>
<circle cx="399.58" cy="389.68" r="2.2" fill="#111"/>
<circle cx="415.08" cy="379.56" r="2.2" fill="#111"/>
<circle cx="427.93" cy="371.24" r="2.2" fill="#111"/>
<circle cx="440.33" cy="360.03" r="2.2" fill="#111"/>
<circle cx="454.95" cy="351.71" r="2.2" fill="#111"/>
<circle cx="468.24" cy="343.75" r="2.2" fill="#111"/>
<circle cx="481.97" cy="336.52" r="2.2" fill="#111"/>
<circle cx="493.49" cy="328.92" r="2.2" fill="#111"/>
<circle cx="503.68" cy="322.05" r="2.2" fill="#111"/>
<rect x="388.2" y="289.4" width="35.2" height="10.8" fill="#fff" stroke="#222" stroke-width="0.9"/>
<text x="405.8" y="296.7" class="fb2" text-anchor="middle">y=0.73x</text>
<rect x="385.4" y="284.8" width="132.9" height="108.5" fill="none" stroke="#1a1a1a" stroke-width="1.5"/>
<text x="383.4" y="395.6" class="tk" text-anchor="end">0</text>
<text x="385.4" y="400.9" class="tk" text-anchor="middle">0</text>
<text x="383.4" y="359.43" class="tk" text-anchor="end">1</text>
<text x="429.7" y="400.9" class="tk" text-anchor="middle">1</text>
<text x="383.4" y="323.27" class="tk" text-anchor="end">2</text>
<text x="474" y="400.9" class="tk" text-anchor="middle">2</text>
<text x="383.4" y="287.1" class="tk" text-anchor="end">3</text>
<text x="518.3" y="400.9" class="tk" text-anchor="middle">3</text>
<text transform="translate(359.2,340.25) rotate(-90)" class="al" text-anchor="middle">Energy deposition</text>
<text transform="translate(371.7,340.25) rotate(-90)" class="al" text-anchor="middle">in water (J)</text>
<text x="450.85" y="411.6" class="al" text-anchor="middle">Consumed</text>
<text x="451.85" y="425" class="al" text-anchor="middle">electric energy (J)</text>
</svg></body></html>
